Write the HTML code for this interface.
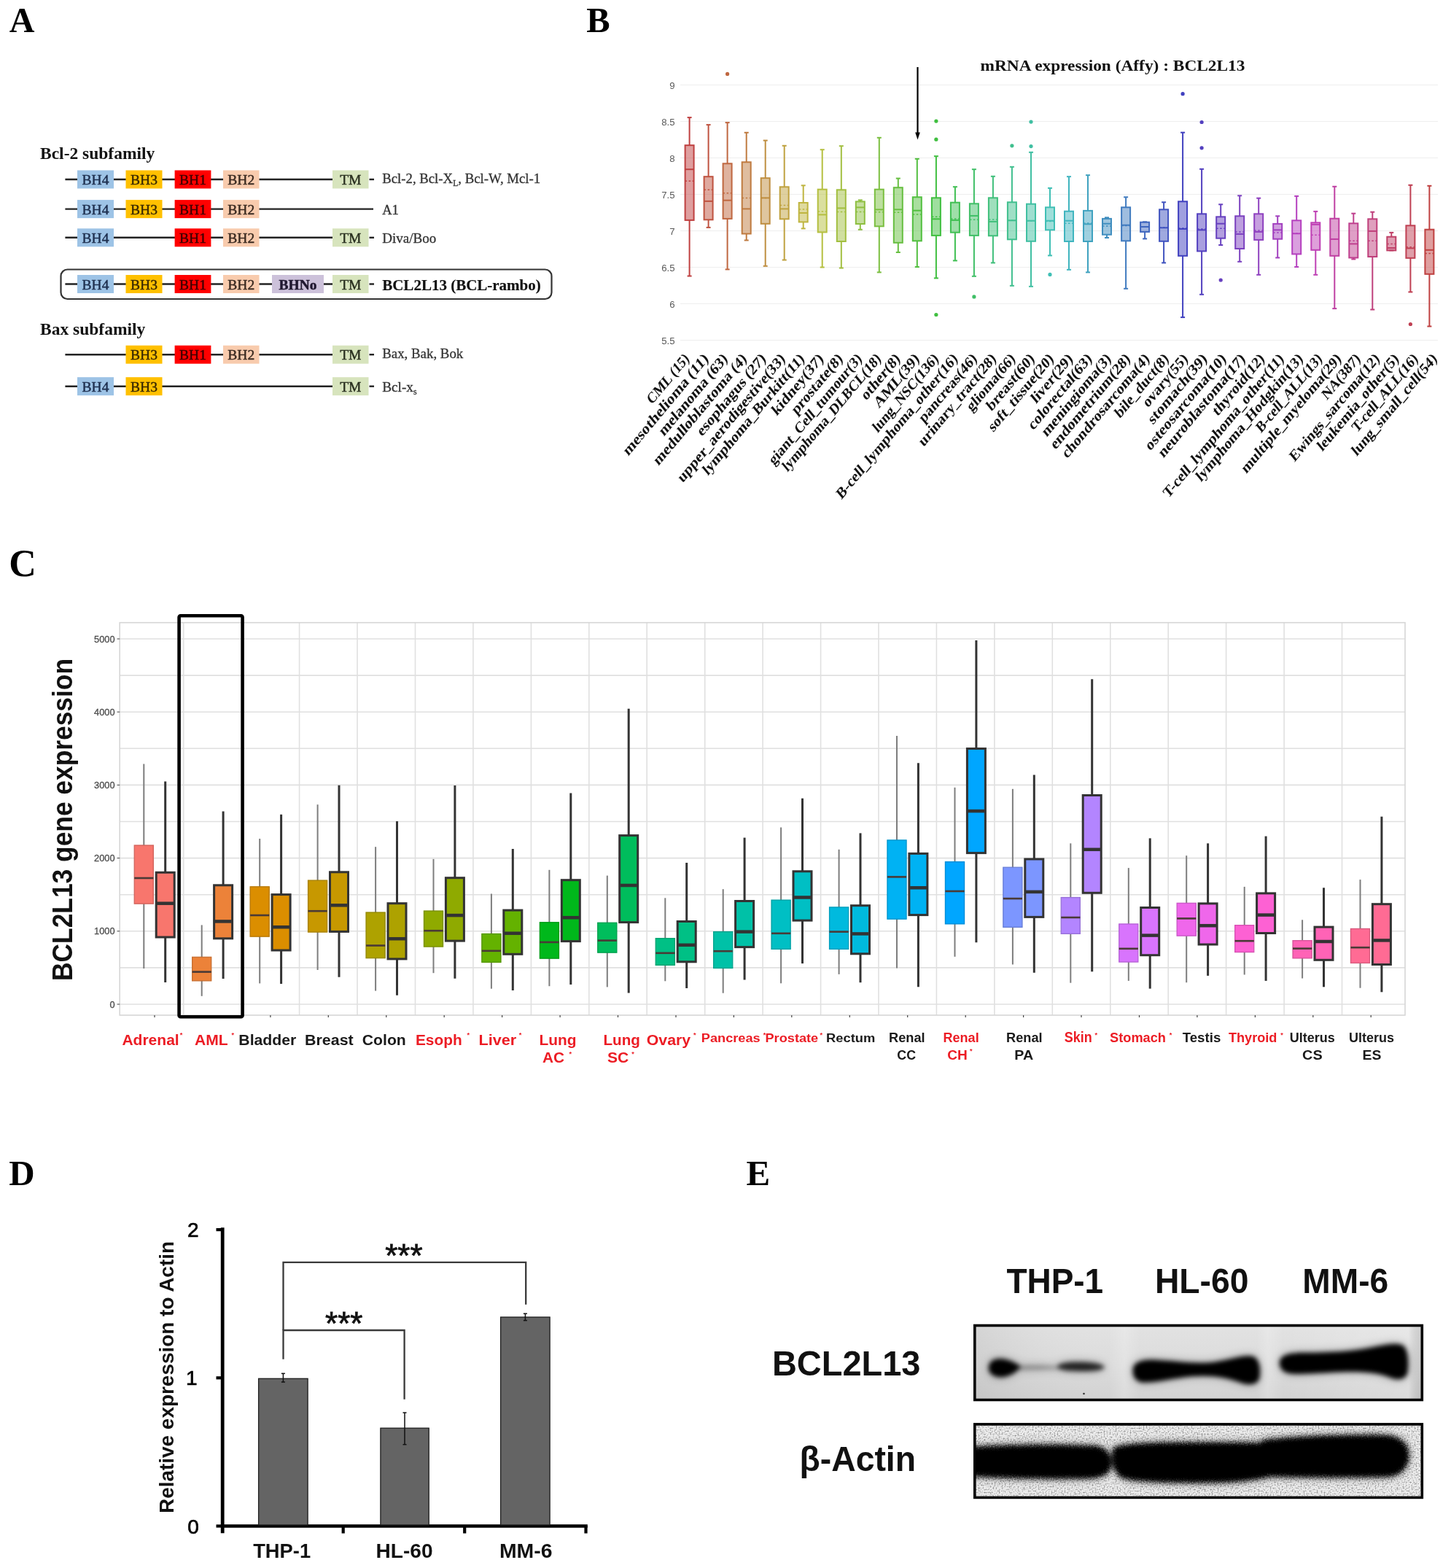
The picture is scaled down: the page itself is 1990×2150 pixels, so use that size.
<!DOCTYPE html>
<html><head><meta charset="utf-8"><title>BCL2L13 figure</title>
<style>html,body{margin:0;padding:0;background:#fff;} svg{display:block;}</style></head>
<body><svg width="1990" height="2150" viewBox="0 0 1990 2150">
<rect x="0" y="0" width="1990" height="2150" fill="#fff"/>
<text x="12.8" y="44.2" font-family="'Liberation Serif','Times New Roman',serif" font-weight="bold" font-size="48" fill="#000">A</text>
<text x="804.3" y="44.2" font-family="'Liberation Serif','Times New Roman',serif" font-weight="bold" font-size="48.5" fill="#000">B</text>
<text x="12.2" y="790.3" font-family="'Liberation Serif','Times New Roman',serif" font-weight="bold" font-size="52" fill="#000">C</text>
<text x="12.2" y="1625.2" font-family="'Liberation Serif','Times New Roman',serif" font-weight="bold" font-size="49" fill="#000">D</text>
<text x="1023.6" y="1625.2" font-family="'Liberation Serif','Times New Roman',serif" font-weight="bold" font-size="49" fill="#000">E</text>
<text x="55" y="218" font-family="'Liberation Serif','Times New Roman',serif" font-weight="bold" font-size="23.5" fill="#111">Bcl-2 subfamily</text>
<line x1="89.4" y1="246" x2="456" y2="246" stroke="#222" stroke-width="2.4"/>
<rect x="106" y="233.5" width="50" height="25" fill="#9DC3E6"/>
<text x="131.0" y="253" text-anchor="middle" font-family="'Liberation Serif','Times New Roman',serif" font-weight="normal" font-size="19.5" fill="#1F3050" stroke="#1F3050" stroke-width="0.45">BH4</text>
<rect x="172.5" y="233.5" width="50.0" height="25" fill="#FFC000"/>
<text x="197.5" y="253" text-anchor="middle" font-family="'Liberation Serif','Times New Roman',serif" font-weight="normal" font-size="19.5" fill="#3A2A00" stroke="#3A2A00" stroke-width="0.45">BH3</text>
<rect x="239.6" y="233.5" width="49.79999999999998" height="25" fill="#FF0000"/>
<text x="264.5" y="253" text-anchor="middle" font-family="'Liberation Serif','Times New Roman',serif" font-weight="normal" font-size="19.5" fill="#400000" stroke="#400000" stroke-width="0.45">BH1</text>
<rect x="306" y="233.5" width="49.5" height="25" fill="#F8CBAD"/>
<text x="330.75" y="253" text-anchor="middle" font-family="'Liberation Serif','Times New Roman',serif" font-weight="normal" font-size="19.5" fill="#3A2A20" stroke="#3A2A20" stroke-width="0.45">BH2</text>
<rect x="456" y="233.5" width="49.5" height="25" fill="#D7E4BD"/>
<text x="480.75" y="253" text-anchor="middle" font-family="'Liberation Serif','Times New Roman',serif" font-weight="normal" font-size="19.5" fill="#2A3020" stroke="#2A3020" stroke-width="0.45">TM</text>
<line x1="506.5" y1="246" x2="513" y2="246" stroke="#222" stroke-width="2.4"/>
<text transform="translate(524.2,251) scale(1.015,1)" font-family="'Liberation Serif','Times New Roman',serif" font-weight="normal" font-size="18.5" fill="#333" stroke="#333" stroke-width="0.3">Bcl-2, Bcl-X<tspan font-size="11.5" dy="4">L</tspan><tspan dy="-4">, Bcl-W, Mcl-1</tspan></text>
<line x1="89.4" y1="286.6" x2="512" y2="286.6" stroke="#222" stroke-width="2.4"/>
<rect x="106" y="274.1" width="50" height="25" fill="#9DC3E6"/>
<text x="131.0" y="293.6" text-anchor="middle" font-family="'Liberation Serif','Times New Roman',serif" font-weight="normal" font-size="19.5" fill="#1F3050" stroke="#1F3050" stroke-width="0.45">BH4</text>
<rect x="172.5" y="274.1" width="50.0" height="25" fill="#FFC000"/>
<text x="197.5" y="293.6" text-anchor="middle" font-family="'Liberation Serif','Times New Roman',serif" font-weight="normal" font-size="19.5" fill="#3A2A00" stroke="#3A2A00" stroke-width="0.45">BH3</text>
<rect x="239.6" y="274.1" width="49.79999999999998" height="25" fill="#FF0000"/>
<text x="264.5" y="293.6" text-anchor="middle" font-family="'Liberation Serif','Times New Roman',serif" font-weight="normal" font-size="19.5" fill="#400000" stroke="#400000" stroke-width="0.45">BH1</text>
<rect x="306" y="274.1" width="49.5" height="25" fill="#F8CBAD"/>
<text x="330.75" y="293.6" text-anchor="middle" font-family="'Liberation Serif','Times New Roman',serif" font-weight="normal" font-size="19.5" fill="#3A2A20" stroke="#3A2A20" stroke-width="0.45">BH2</text>
<text transform="translate(524.2,294.4) scale(1.0,1)" font-family="'Liberation Serif','Times New Roman',serif" font-weight="normal" font-size="18.5" fill="#333" stroke="#333" stroke-width="0.3">A1</text>
<line x1="89.4" y1="325.8" x2="456" y2="325.8" stroke="#222" stroke-width="2.4"/>
<rect x="106" y="313.3" width="50" height="25" fill="#9DC3E6"/>
<text x="131.0" y="332.8" text-anchor="middle" font-family="'Liberation Serif','Times New Roman',serif" font-weight="normal" font-size="19.5" fill="#1F3050" stroke="#1F3050" stroke-width="0.45">BH4</text>
<rect x="239.6" y="313.3" width="49.79999999999998" height="25" fill="#FF0000"/>
<text x="264.5" y="332.8" text-anchor="middle" font-family="'Liberation Serif','Times New Roman',serif" font-weight="normal" font-size="19.5" fill="#400000" stroke="#400000" stroke-width="0.45">BH1</text>
<rect x="306" y="313.3" width="49.5" height="25" fill="#F8CBAD"/>
<text x="330.75" y="332.8" text-anchor="middle" font-family="'Liberation Serif','Times New Roman',serif" font-weight="normal" font-size="19.5" fill="#3A2A20" stroke="#3A2A20" stroke-width="0.45">BH2</text>
<rect x="456" y="313.3" width="49.5" height="25" fill="#D7E4BD"/>
<text x="480.75" y="332.8" text-anchor="middle" font-family="'Liberation Serif','Times New Roman',serif" font-weight="normal" font-size="19.5" fill="#2A3020" stroke="#2A3020" stroke-width="0.45">TM</text>
<line x1="506.5" y1="325.8" x2="513" y2="325.8" stroke="#222" stroke-width="2.4"/>
<text transform="translate(524.2,333.4) scale(1.03,1)" font-family="'Liberation Serif','Times New Roman',serif" font-weight="normal" font-size="18.5" fill="#333" stroke="#333" stroke-width="0.3">Diva/Boo</text>
<rect x="83.5" y="369.5" width="673" height="40.5" rx="9" ry="9" fill="none" stroke="#333" stroke-width="2.2"/>
<line x1="89.4" y1="389.5" x2="456" y2="389.5" stroke="#222" stroke-width="2.4"/>
<rect x="106" y="377.0" width="50" height="25" fill="#9DC3E6"/>
<text x="131.0" y="396.5" text-anchor="middle" font-family="'Liberation Serif','Times New Roman',serif" font-weight="normal" font-size="19.5" fill="#1F3050" stroke="#1F3050" stroke-width="0.45">BH4</text>
<rect x="172.5" y="377.0" width="50.0" height="25" fill="#FFC000"/>
<text x="197.5" y="396.5" text-anchor="middle" font-family="'Liberation Serif','Times New Roman',serif" font-weight="normal" font-size="19.5" fill="#3A2A00" stroke="#3A2A00" stroke-width="0.45">BH3</text>
<rect x="239.6" y="377.0" width="49.79999999999998" height="25" fill="#FF0000"/>
<text x="264.5" y="396.5" text-anchor="middle" font-family="'Liberation Serif','Times New Roman',serif" font-weight="normal" font-size="19.5" fill="#400000" stroke="#400000" stroke-width="0.45">BH1</text>
<rect x="306" y="377.0" width="49.5" height="25" fill="#F8CBAD"/>
<text x="330.75" y="396.5" text-anchor="middle" font-family="'Liberation Serif','Times New Roman',serif" font-weight="normal" font-size="19.5" fill="#3A2A20" stroke="#3A2A20" stroke-width="0.45">BH2</text>
<rect x="373" y="377.0" width="71" height="25" fill="#CCC1DA"/>
<text x="408.5" y="396.5" text-anchor="middle" font-family="'Liberation Serif','Times New Roman',serif" font-weight="bold" font-size="19.5" fill="#201830" stroke="#201830" stroke-width="0.45">BHNo</text>
<rect x="456" y="377.0" width="49.5" height="25" fill="#D7E4BD"/>
<text x="480.75" y="396.5" text-anchor="middle" font-family="'Liberation Serif','Times New Roman',serif" font-weight="normal" font-size="19.5" fill="#2A3020" stroke="#2A3020" stroke-width="0.45">TM</text>
<line x1="506.5" y1="389.5" x2="513" y2="389.5" stroke="#222" stroke-width="2.4"/>
<text transform="translate(524.2,397.5) scale(1.0,1)" font-family="'Liberation Serif','Times New Roman',serif" font-weight="bold" font-size="21" fill="#111" stroke="#111" stroke-width="0.2">BCL2L13 (BCL-rambo)</text>
<text x="55" y="458.5" font-family="'Liberation Serif','Times New Roman',serif" font-weight="bold" font-size="23.5" fill="#111">Bax subfamily</text>
<line x1="89.4" y1="486.2" x2="456" y2="486.2" stroke="#222" stroke-width="2.4"/>
<rect x="172.5" y="473.7" width="50.0" height="25" fill="#FFC000"/>
<text x="197.5" y="493.2" text-anchor="middle" font-family="'Liberation Serif','Times New Roman',serif" font-weight="normal" font-size="19.5" fill="#3A2A00" stroke="#3A2A00" stroke-width="0.45">BH3</text>
<rect x="239.6" y="473.7" width="49.79999999999998" height="25" fill="#FF0000"/>
<text x="264.5" y="493.2" text-anchor="middle" font-family="'Liberation Serif','Times New Roman',serif" font-weight="normal" font-size="19.5" fill="#400000" stroke="#400000" stroke-width="0.45">BH1</text>
<rect x="306" y="473.7" width="49.5" height="25" fill="#F8CBAD"/>
<text x="330.75" y="493.2" text-anchor="middle" font-family="'Liberation Serif','Times New Roman',serif" font-weight="normal" font-size="19.5" fill="#3A2A20" stroke="#3A2A20" stroke-width="0.45">BH2</text>
<rect x="456" y="473.7" width="49.5" height="25" fill="#D7E4BD"/>
<text x="480.75" y="493.2" text-anchor="middle" font-family="'Liberation Serif','Times New Roman',serif" font-weight="normal" font-size="19.5" fill="#2A3020" stroke="#2A3020" stroke-width="0.45">TM</text>
<line x1="506.5" y1="486.2" x2="513" y2="486.2" stroke="#222" stroke-width="2.4"/>
<text transform="translate(524.2,491.4) scale(1.02,1)" font-family="'Liberation Serif','Times New Roman',serif" font-weight="normal" font-size="18.5" fill="#333" stroke="#333" stroke-width="0.3">Bax, Bak, Bok</text>
<line x1="89.4" y1="529.7" x2="456" y2="529.7" stroke="#222" stroke-width="2.4"/>
<rect x="106" y="517.2" width="50" height="25" fill="#9DC3E6"/>
<text x="131.0" y="536.7" text-anchor="middle" font-family="'Liberation Serif','Times New Roman',serif" font-weight="normal" font-size="19.5" fill="#1F3050" stroke="#1F3050" stroke-width="0.45">BH4</text>
<rect x="172.5" y="517.2" width="50.0" height="25" fill="#FFC000"/>
<text x="197.5" y="536.7" text-anchor="middle" font-family="'Liberation Serif','Times New Roman',serif" font-weight="normal" font-size="19.5" fill="#3A2A00" stroke="#3A2A00" stroke-width="0.45">BH3</text>
<rect x="456" y="517.2" width="49.5" height="25" fill="#D7E4BD"/>
<text x="480.75" y="536.7" text-anchor="middle" font-family="'Liberation Serif','Times New Roman',serif" font-weight="normal" font-size="19.5" fill="#2A3020" stroke="#2A3020" stroke-width="0.45">TM</text>
<line x1="506.5" y1="529.7" x2="513" y2="529.7" stroke="#222" stroke-width="2.4"/>
<text transform="translate(524.2,536.9) scale(1.04,1)" font-family="'Liberation Serif','Times New Roman',serif" font-weight="normal" font-size="18.5" fill="#333" stroke="#333" stroke-width="0.3">Bcl-x<tspan font-size="11.5" dy="4">s</tspan></text>
<line x1="933" y1="116.5" x2="1972" y2="116.5" stroke="#eeeeee" stroke-width="1"/>
<text x="925.5" y="121.5" text-anchor="end" font-family="'Liberation Sans',Arial,sans-serif" font-size="13.2" fill="#5a5a5a">9</text>
<line x1="933" y1="166.5" x2="1972" y2="166.5" stroke="#eeeeee" stroke-width="1"/>
<text x="925.5" y="171.5" text-anchor="end" font-family="'Liberation Sans',Arial,sans-serif" font-size="13.2" fill="#5a5a5a">8.5</text>
<line x1="933" y1="216.5" x2="1972" y2="216.5" stroke="#eeeeee" stroke-width="1"/>
<text x="925.5" y="221.5" text-anchor="end" font-family="'Liberation Sans',Arial,sans-serif" font-size="13.2" fill="#5a5a5a">8</text>
<line x1="933" y1="266.5" x2="1972" y2="266.5" stroke="#eeeeee" stroke-width="1"/>
<text x="925.5" y="271.5" text-anchor="end" font-family="'Liberation Sans',Arial,sans-serif" font-size="13.2" fill="#5a5a5a">7.5</text>
<line x1="933" y1="316.5" x2="1972" y2="316.5" stroke="#eeeeee" stroke-width="1"/>
<text x="925.5" y="321.5" text-anchor="end" font-family="'Liberation Sans',Arial,sans-serif" font-size="13.2" fill="#5a5a5a">7</text>
<line x1="933" y1="366.5" x2="1972" y2="366.5" stroke="#eeeeee" stroke-width="1"/>
<text x="925.5" y="371.5" text-anchor="end" font-family="'Liberation Sans',Arial,sans-serif" font-size="13.2" fill="#5a5a5a">6.5</text>
<line x1="933" y1="416.5" x2="1972" y2="416.5" stroke="#eeeeee" stroke-width="1"/>
<text x="925.5" y="421.5" text-anchor="end" font-family="'Liberation Sans',Arial,sans-serif" font-size="13.2" fill="#5a5a5a">6</text>
<line x1="933" y1="466.5" x2="1972" y2="466.5" stroke="#eeeeee" stroke-width="1"/>
<text x="925.5" y="471.5" text-anchor="end" font-family="'Liberation Sans',Arial,sans-serif" font-size="13.2" fill="#5a5a5a">5.5</text>
<g stroke="#bf4040" stroke-width="2" fill="none">
<line x1="945.6" y1="161.1" x2="945.6" y2="199.2"/>
<line x1="945.6" y1="301.9" x2="945.6" y2="378.5"/>
<line x1="942.6" y1="161.1" x2="948.6" y2="161.1"/>
<line x1="942.6" y1="378.5" x2="948.6" y2="378.5"/>
<rect x="939.6" y="199.2" width="12" height="102.7" fill="#bf4040" fill-opacity="0.5"/>
<line x1="939.6" y1="232.2" x2="951.6" y2="232.2"/>
<line x1="939.6" y1="248.3" x2="951.6" y2="248.3" stroke-dasharray="2.5,2.5" stroke-width="1.5"/>
</g>
<g stroke="#bf5340" stroke-width="2" fill="none">
<line x1="971.6" y1="171.1" x2="971.6" y2="242.2"/>
<line x1="971.6" y1="301.3" x2="971.6" y2="311.9"/>
<line x1="968.6" y1="171.1" x2="974.6" y2="171.1"/>
<line x1="968.6" y1="311.9" x2="974.6" y2="311.9"/>
<rect x="965.6" y="242.2" width="12" height="59.1" fill="#bf5340" fill-opacity="0.5"/>
<line x1="965.6" y1="275.9" x2="977.6" y2="275.9"/>
<line x1="965.6" y1="260.3" x2="977.6" y2="260.3" stroke-dasharray="2.5,2.5" stroke-width="1.5"/>
</g>
<g stroke="#bf6740" stroke-width="2" fill="none">
<line x1="997.6" y1="168.1" x2="997.6" y2="224.3"/>
<line x1="997.6" y1="299.9" x2="997.6" y2="369.4"/>
<line x1="994.6" y1="168.1" x2="1000.6" y2="168.1"/>
<line x1="994.6" y1="369.4" x2="1000.6" y2="369.4"/>
<rect x="991.6" y="224.3" width="12" height="75.6" fill="#bf6740" fill-opacity="0.5"/>
<line x1="991.6" y1="274.7" x2="1003.6" y2="274.7"/>
<line x1="991.6" y1="264.7" x2="1003.6" y2="264.7" stroke-dasharray="2.5,2.5" stroke-width="1.5"/>
</g>
<circle cx="997.6" cy="101.4" r="2.6" fill="#bf6740"/>
<g stroke="#bf7b40" stroke-width="2" fill="none">
<line x1="1023.7" y1="181.8" x2="1023.7" y2="222.3"/>
<line x1="1023.7" y1="320.5" x2="1023.7" y2="329.5"/>
<line x1="1020.7" y1="181.8" x2="1026.7" y2="181.8"/>
<line x1="1020.7" y1="329.5" x2="1026.7" y2="329.5"/>
<rect x="1017.7" y="222.3" width="12" height="98.2" fill="#bf7b40" fill-opacity="0.5"/>
<line x1="1017.7" y1="286.4" x2="1029.7" y2="286.4"/>
<line x1="1017.7" y1="271.4" x2="1029.7" y2="271.4" stroke-dasharray="2.5,2.5" stroke-width="1.5"/>
</g>
<g stroke="#bf8e40" stroke-width="2" fill="none">
<line x1="1049.7" y1="192.6" x2="1049.7" y2="244.2"/>
<line x1="1049.7" y1="306.8" x2="1049.7" y2="364.8"/>
<line x1="1046.7" y1="192.6" x2="1052.7" y2="192.6"/>
<line x1="1046.7" y1="364.8" x2="1052.7" y2="364.8"/>
<rect x="1043.7" y="244.2" width="12" height="62.6" fill="#bf8e40" fill-opacity="0.5"/>
<line x1="1043.7" y1="271.4" x2="1055.7" y2="271.4"/>
<line x1="1043.7" y1="271.4" x2="1055.7" y2="271.4" stroke-dasharray="2.5,2.5" stroke-width="1.5"/>
</g>
<g stroke="#bfa240" stroke-width="2" fill="none">
<line x1="1075.7" y1="199.8" x2="1075.7" y2="256.3"/>
<line x1="1075.7" y1="300.3" x2="1075.7" y2="356.5"/>
<line x1="1072.7" y1="199.8" x2="1078.7" y2="199.8"/>
<line x1="1072.7" y1="356.5" x2="1078.7" y2="356.5"/>
<rect x="1069.7" y="256.3" width="12" height="44.0" fill="#bfa240" fill-opacity="0.5"/>
<line x1="1069.7" y1="286.4" x2="1081.7" y2="286.4"/>
<line x1="1069.7" y1="281.4" x2="1081.7" y2="281.4" stroke-dasharray="2.5,2.5" stroke-width="1.5"/>
</g>
<g stroke="#bfb540" stroke-width="2" fill="none">
<line x1="1101.7" y1="254.3" x2="1101.7" y2="278.0"/>
<line x1="1101.7" y1="304.4" x2="1101.7" y2="313.4"/>
<line x1="1098.7" y1="254.3" x2="1104.7" y2="254.3"/>
<line x1="1098.7" y1="313.4" x2="1104.7" y2="313.4"/>
<rect x="1095.7" y="278.0" width="12" height="26.4" fill="#bfb540" fill-opacity="0.5"/>
<line x1="1095.7" y1="292.0" x2="1107.7" y2="292.0"/>
<line x1="1095.7" y1="287.0" x2="1107.7" y2="287.0" stroke-dasharray="2.5,2.5" stroke-width="1.5"/>
</g>
<g stroke="#b5bf40" stroke-width="2" fill="none">
<line x1="1127.7" y1="205.2" x2="1127.7" y2="259.7"/>
<line x1="1127.7" y1="318.4" x2="1127.7" y2="366.5"/>
<line x1="1124.7" y1="205.2" x2="1130.7" y2="205.2"/>
<line x1="1124.7" y1="366.5" x2="1130.7" y2="366.5"/>
<rect x="1121.7" y="259.7" width="12" height="58.7" fill="#b5bf40" fill-opacity="0.5"/>
<line x1="1121.7" y1="294.4" x2="1133.7" y2="294.4"/>
<line x1="1121.7" y1="290.0" x2="1133.7" y2="290.0" stroke-dasharray="2.5,2.5" stroke-width="1.5"/>
</g>
<g stroke="#a2bf40" stroke-width="2" fill="none">
<line x1="1153.8" y1="200.2" x2="1153.8" y2="260.3"/>
<line x1="1153.8" y1="331.0" x2="1153.8" y2="367.5"/>
<line x1="1150.8" y1="200.2" x2="1156.8" y2="200.2"/>
<line x1="1150.8" y1="367.5" x2="1156.8" y2="367.5"/>
<rect x="1147.8" y="260.3" width="12" height="70.7" fill="#a2bf40" fill-opacity="0.5"/>
<line x1="1147.8" y1="285.4" x2="1159.8" y2="285.4"/>
<line x1="1147.8" y1="290.4" x2="1159.8" y2="290.4" stroke-dasharray="2.5,2.5" stroke-width="1.5"/>
</g>
<g stroke="#8ebf40" stroke-width="2" fill="none">
<line x1="1179.8" y1="274.4" x2="1179.8" y2="276.4"/>
<line x1="1179.8" y1="307.0" x2="1179.8" y2="314.8"/>
<line x1="1176.8" y1="274.4" x2="1182.8" y2="274.4"/>
<line x1="1176.8" y1="314.8" x2="1182.8" y2="314.8"/>
<rect x="1173.8" y="276.4" width="12" height="30.6" fill="#8ebf40" fill-opacity="0.5"/>
<line x1="1173.8" y1="284.4" x2="1185.8" y2="284.4"/>
<line x1="1173.8" y1="290.4" x2="1185.8" y2="290.4" stroke-dasharray="2.5,2.5" stroke-width="1.5"/>
</g>
<g stroke="#7bbf40" stroke-width="2" fill="none">
<line x1="1205.8" y1="188.8" x2="1205.8" y2="259.7"/>
<line x1="1205.8" y1="310.3" x2="1205.8" y2="373.4"/>
<line x1="1202.8" y1="188.8" x2="1208.8" y2="188.8"/>
<line x1="1202.8" y1="373.4" x2="1208.8" y2="373.4"/>
<rect x="1199.8" y="259.7" width="12" height="50.6" fill="#7bbf40" fill-opacity="0.5"/>
<line x1="1199.8" y1="287.4" x2="1211.8" y2="287.4"/>
<line x1="1199.8" y1="290.8" x2="1211.8" y2="290.8" stroke-dasharray="2.5,2.5" stroke-width="1.5"/>
</g>
<g stroke="#67bf40" stroke-width="2" fill="none">
<line x1="1231.8" y1="244.6" x2="1231.8" y2="257.2"/>
<line x1="1231.8" y1="332.8" x2="1231.8" y2="346.0"/>
<line x1="1228.8" y1="244.6" x2="1234.8" y2="244.6"/>
<line x1="1228.8" y1="346.0" x2="1234.8" y2="346.0"/>
<rect x="1225.8" y="257.2" width="12" height="75.6" fill="#67bf40" fill-opacity="0.5"/>
<line x1="1225.8" y1="287.3" x2="1237.8" y2="287.3"/>
<line x1="1225.8" y1="291.3" x2="1237.8" y2="291.3" stroke-dasharray="2.5,2.5" stroke-width="1.5"/>
</g>
<g stroke="#53bf40" stroke-width="2" fill="none">
<line x1="1257.8" y1="217.8" x2="1257.8" y2="270.3"/>
<line x1="1257.8" y1="330.3" x2="1257.8" y2="366.0"/>
<line x1="1254.8" y1="217.8" x2="1260.8" y2="217.8"/>
<line x1="1254.8" y1="366.0" x2="1260.8" y2="366.0"/>
<rect x="1251.8" y="270.3" width="12" height="60.0" fill="#53bf40" fill-opacity="0.5"/>
<line x1="1251.8" y1="288.7" x2="1263.8" y2="288.7"/>
<line x1="1251.8" y1="293.9" x2="1263.8" y2="293.9" stroke-dasharray="2.5,2.5" stroke-width="1.5"/>
</g>
<g stroke="#40bf40" stroke-width="2" fill="none">
<line x1="1283.9" y1="214.2" x2="1283.9" y2="271.3"/>
<line x1="1283.9" y1="322.9" x2="1283.9" y2="381.4"/>
<line x1="1280.9" y1="214.2" x2="1286.9" y2="214.2"/>
<line x1="1280.9" y1="381.4" x2="1286.9" y2="381.4"/>
<rect x="1277.9" y="271.3" width="12" height="51.6" fill="#40bf40" fill-opacity="0.5"/>
<line x1="1277.9" y1="300.3" x2="1289.9" y2="300.3"/>
<line x1="1277.9" y1="297.3" x2="1289.9" y2="297.3" stroke-dasharray="2.5,2.5" stroke-width="1.5"/>
</g>
<circle cx="1283.9" cy="166.1" r="2.6" fill="#40bf40"/>
<circle cx="1283.9" cy="191.2" r="2.6" fill="#40bf40"/>
<circle cx="1283.9" cy="431.5" r="2.6" fill="#40bf40"/>
<g stroke="#40bf53" stroke-width="2" fill="none">
<line x1="1309.9" y1="256.2" x2="1309.9" y2="277.7"/>
<line x1="1309.9" y1="318.7" x2="1309.9" y2="357.4"/>
<line x1="1306.9" y1="256.2" x2="1312.9" y2="256.2"/>
<line x1="1306.9" y1="357.4" x2="1312.9" y2="357.4"/>
<rect x="1303.9" y="277.7" width="12" height="41.0" fill="#40bf53" fill-opacity="0.5"/>
<line x1="1303.9" y1="301.9" x2="1315.9" y2="301.9"/>
<line x1="1303.9" y1="300.0" x2="1315.9" y2="300.0" stroke-dasharray="2.5,2.5" stroke-width="1.5"/>
</g>
<g stroke="#40bf67" stroke-width="2" fill="none">
<line x1="1335.9" y1="232.2" x2="1335.9" y2="279.3"/>
<line x1="1335.9" y1="322.9" x2="1335.9" y2="378.8"/>
<line x1="1332.9" y1="232.2" x2="1338.9" y2="232.2"/>
<line x1="1332.9" y1="378.8" x2="1338.9" y2="378.8"/>
<rect x="1329.9" y="279.3" width="12" height="43.6" fill="#40bf67" fill-opacity="0.5"/>
<line x1="1329.9" y1="295.9" x2="1341.9" y2="295.9"/>
<line x1="1329.9" y1="301.3" x2="1341.9" y2="301.3" stroke-dasharray="2.5,2.5" stroke-width="1.5"/>
</g>
<circle cx="1335.9" cy="406.9" r="2.6" fill="#40bf67"/>
<g stroke="#40bf7b" stroke-width="2" fill="none">
<line x1="1361.9" y1="241.8" x2="1361.9" y2="271.3"/>
<line x1="1361.9" y1="323.3" x2="1361.9" y2="360.4"/>
<line x1="1358.9" y1="241.8" x2="1364.9" y2="241.8"/>
<line x1="1358.9" y1="360.4" x2="1364.9" y2="360.4"/>
<rect x="1355.9" y="271.3" width="12" height="52.0" fill="#40bf7b" fill-opacity="0.5"/>
<line x1="1355.9" y1="303.9" x2="1367.9" y2="303.9"/>
<line x1="1355.9" y1="301.0" x2="1367.9" y2="301.0" stroke-dasharray="2.5,2.5" stroke-width="1.5"/>
</g>
<g stroke="#40bf8e" stroke-width="2" fill="none">
<line x1="1387.9" y1="228.8" x2="1387.9" y2="277.3"/>
<line x1="1387.9" y1="328.3" x2="1387.9" y2="391.8"/>
<line x1="1384.9" y1="228.8" x2="1390.9" y2="228.8"/>
<line x1="1384.9" y1="391.8" x2="1390.9" y2="391.8"/>
<rect x="1381.9" y="277.3" width="12" height="51.0" fill="#40bf8e" fill-opacity="0.5"/>
<line x1="1381.9" y1="302.3" x2="1393.9" y2="302.3"/>
<line x1="1381.9" y1="302.3" x2="1393.9" y2="302.3" stroke-dasharray="2.5,2.5" stroke-width="1.5"/>
</g>
<circle cx="1387.9" cy="199.8" r="2.6" fill="#40bf8e"/>
<g stroke="#40bfa2" stroke-width="2" fill="none">
<line x1="1414.0" y1="208.8" x2="1414.0" y2="279.7"/>
<line x1="1414.0" y1="330.8" x2="1414.0" y2="392.8"/>
<line x1="1411.0" y1="208.8" x2="1417.0" y2="208.8"/>
<line x1="1411.0" y1="392.8" x2="1417.0" y2="392.8"/>
<rect x="1408.0" y="279.7" width="12" height="51.1" fill="#40bfa2" fill-opacity="0.5"/>
<line x1="1408.0" y1="302.7" x2="1420.0" y2="302.7"/>
<line x1="1408.0" y1="302.7" x2="1420.0" y2="302.7" stroke-dasharray="2.5,2.5" stroke-width="1.5"/>
</g>
<circle cx="1414.0" cy="167.1" r="2.6" fill="#40bfa2"/>
<circle cx="1414.0" cy="200.6" r="2.6" fill="#40bfa2"/>
<g stroke="#40bfb5" stroke-width="2" fill="none">
<line x1="1440.0" y1="257.9" x2="1440.0" y2="284.3"/>
<line x1="1440.0" y1="315.3" x2="1440.0" y2="350.4"/>
<line x1="1437.0" y1="257.9" x2="1443.0" y2="257.9"/>
<line x1="1437.0" y1="350.4" x2="1443.0" y2="350.4"/>
<rect x="1434.0" y="284.3" width="12" height="31.0" fill="#40bfb5" fill-opacity="0.5"/>
<line x1="1434.0" y1="302.7" x2="1446.0" y2="302.7"/>
<line x1="1434.0" y1="303.5" x2="1446.0" y2="303.5" stroke-dasharray="2.5,2.5" stroke-width="1.5"/>
</g>
<circle cx="1440.0" cy="376.4" r="2.6" fill="#40bfb5"/>
<g stroke="#40b5bf" stroke-width="2" fill="none">
<line x1="1466.0" y1="242.2" x2="1466.0" y2="289.7"/>
<line x1="1466.0" y1="331.0" x2="1466.0" y2="369.8"/>
<line x1="1463.0" y1="242.2" x2="1469.0" y2="242.2"/>
<line x1="1463.0" y1="369.8" x2="1469.0" y2="369.8"/>
<rect x="1460.0" y="289.7" width="12" height="41.3" fill="#40b5bf" fill-opacity="0.5"/>
<line x1="1460.0" y1="302.7" x2="1472.0" y2="302.7"/>
<line x1="1460.0" y1="306.3" x2="1472.0" y2="306.3" stroke-dasharray="2.5,2.5" stroke-width="1.5"/>
</g>
<g stroke="#40a2bf" stroke-width="2" fill="none">
<line x1="1492.0" y1="240.2" x2="1492.0" y2="288.9"/>
<line x1="1492.0" y1="331.0" x2="1492.0" y2="373.4"/>
<line x1="1489.0" y1="240.2" x2="1495.0" y2="240.2"/>
<line x1="1489.0" y1="373.4" x2="1495.0" y2="373.4"/>
<rect x="1486.0" y="288.9" width="12" height="42.1" fill="#40a2bf" fill-opacity="0.5"/>
<line x1="1486.0" y1="307.3" x2="1498.0" y2="307.3"/>
<line x1="1486.0" y1="306.0" x2="1498.0" y2="306.0" stroke-dasharray="2.5,2.5" stroke-width="1.5"/>
</g>
<g stroke="#408ebf" stroke-width="2" fill="none">
<line x1="1518.0" y1="298.3" x2="1518.0" y2="299.9"/>
<line x1="1518.0" y1="321.7" x2="1518.0" y2="326.0"/>
<line x1="1515.0" y1="298.3" x2="1521.0" y2="298.3"/>
<line x1="1515.0" y1="326.0" x2="1521.0" y2="326.0"/>
<rect x="1512.0" y="299.9" width="12" height="21.8" fill="#408ebf" fill-opacity="0.5"/>
<line x1="1512.0" y1="306.7" x2="1524.0" y2="306.7"/>
<line x1="1512.0" y1="310.0" x2="1524.0" y2="310.0" stroke-dasharray="2.5,2.5" stroke-width="1.5"/>
</g>
<g stroke="#407bbf" stroke-width="2" fill="none">
<line x1="1544.1" y1="270.3" x2="1544.1" y2="284.3"/>
<line x1="1544.1" y1="330.3" x2="1544.1" y2="395.8"/>
<line x1="1541.1" y1="270.3" x2="1547.1" y2="270.3"/>
<line x1="1541.1" y1="395.8" x2="1547.1" y2="395.8"/>
<rect x="1538.1" y="284.3" width="12" height="46.0" fill="#407bbf" fill-opacity="0.5"/>
<line x1="1538.1" y1="308.7" x2="1550.1" y2="308.7"/>
<line x1="1538.1" y1="309.5" x2="1550.1" y2="309.5" stroke-dasharray="2.5,2.5" stroke-width="1.5"/>
</g>
<g stroke="#4067bf" stroke-width="2" fill="none">
<line x1="1570.1" y1="304.3" x2="1570.1" y2="304.7"/>
<line x1="1570.1" y1="317.9" x2="1570.1" y2="327.4"/>
<line x1="1567.1" y1="304.3" x2="1573.1" y2="304.3"/>
<line x1="1567.1" y1="327.4" x2="1573.1" y2="327.4"/>
<rect x="1564.1" y="304.7" width="12" height="13.2" fill="#4067bf" fill-opacity="0.5"/>
<line x1="1564.1" y1="311.0" x2="1576.1" y2="311.0"/>
<line x1="1564.1" y1="311.0" x2="1576.1" y2="311.0" stroke-dasharray="2.5,2.5" stroke-width="1.5"/>
</g>
<g stroke="#4053bf" stroke-width="2" fill="none">
<line x1="1596.1" y1="277.3" x2="1596.1" y2="287.3"/>
<line x1="1596.1" y1="330.8" x2="1596.1" y2="360.4"/>
<line x1="1593.1" y1="277.3" x2="1599.1" y2="277.3"/>
<line x1="1593.1" y1="360.4" x2="1599.1" y2="360.4"/>
<rect x="1590.1" y="287.3" width="12" height="43.5" fill="#4053bf" fill-opacity="0.5"/>
<line x1="1590.1" y1="312.3" x2="1602.1" y2="312.3"/>
<line x1="1590.1" y1="312.0" x2="1602.1" y2="312.0" stroke-dasharray="2.5,2.5" stroke-width="1.5"/>
</g>
<g stroke="#4040bf" stroke-width="2" fill="none">
<line x1="1622.1" y1="181.7" x2="1622.1" y2="276.3"/>
<line x1="1622.1" y1="350.8" x2="1622.1" y2="435.1"/>
<line x1="1619.1" y1="181.7" x2="1625.1" y2="181.7"/>
<line x1="1619.1" y1="435.1" x2="1625.1" y2="435.1"/>
<rect x="1616.1" y="276.3" width="12" height="74.5" fill="#4040bf" fill-opacity="0.5"/>
<line x1="1616.1" y1="313.9" x2="1628.1" y2="313.9"/>
<line x1="1616.1" y1="313.0" x2="1628.1" y2="313.0" stroke-dasharray="2.5,2.5" stroke-width="1.5"/>
</g>
<circle cx="1622.1" cy="128.7" r="2.6" fill="#4040bf"/>
<g stroke="#5340bf" stroke-width="2" fill="none">
<line x1="1648.1" y1="231.8" x2="1648.1" y2="293.3"/>
<line x1="1648.1" y1="344.4" x2="1648.1" y2="403.8"/>
<line x1="1645.1" y1="231.8" x2="1651.1" y2="231.8"/>
<line x1="1645.1" y1="403.8" x2="1651.1" y2="403.8"/>
<rect x="1642.1" y="293.3" width="12" height="51.1" fill="#5340bf" fill-opacity="0.5"/>
<line x1="1642.1" y1="315.3" x2="1654.1" y2="315.3"/>
<line x1="1642.1" y1="314.0" x2="1654.1" y2="314.0" stroke-dasharray="2.5,2.5" stroke-width="1.5"/>
</g>
<circle cx="1648.1" cy="167.5" r="2.6" fill="#5340bf"/>
<circle cx="1648.1" cy="202.8" r="2.6" fill="#5340bf"/>
<g stroke="#6740bf" stroke-width="2" fill="none">
<line x1="1674.2" y1="280.3" x2="1674.2" y2="297.3"/>
<line x1="1674.2" y1="326.7" x2="1674.2" y2="336.0"/>
<line x1="1671.2" y1="280.3" x2="1677.2" y2="280.3"/>
<line x1="1671.2" y1="336.0" x2="1677.2" y2="336.0"/>
<rect x="1668.2" y="297.3" width="12" height="29.4" fill="#6740bf" fill-opacity="0.5"/>
<line x1="1668.2" y1="306.7" x2="1680.2" y2="306.7"/>
<line x1="1668.2" y1="313.3" x2="1680.2" y2="313.3" stroke-dasharray="2.5,2.5" stroke-width="1.5"/>
</g>
<circle cx="1674.2" cy="384.0" r="2.6" fill="#6740bf"/>
<g stroke="#7b40bf" stroke-width="2" fill="none">
<line x1="1700.2" y1="268.3" x2="1700.2" y2="296.3"/>
<line x1="1700.2" y1="341.0" x2="1700.2" y2="358.8"/>
<line x1="1697.2" y1="268.3" x2="1703.2" y2="268.3"/>
<line x1="1697.2" y1="358.8" x2="1703.2" y2="358.8"/>
<rect x="1694.2" y="296.3" width="12" height="44.7" fill="#7b40bf" fill-opacity="0.5"/>
<line x1="1694.2" y1="320.9" x2="1706.2" y2="320.9"/>
<line x1="1694.2" y1="317.9" x2="1706.2" y2="317.9" stroke-dasharray="2.5,2.5" stroke-width="1.5"/>
</g>
<g stroke="#8e40bf" stroke-width="2" fill="none">
<line x1="1726.2" y1="271.7" x2="1726.2" y2="293.3"/>
<line x1="1726.2" y1="328.9" x2="1726.2" y2="376.8"/>
<line x1="1723.2" y1="271.7" x2="1729.2" y2="271.7"/>
<line x1="1723.2" y1="376.8" x2="1729.2" y2="376.8"/>
<rect x="1720.2" y="293.3" width="12" height="35.6" fill="#8e40bf" fill-opacity="0.5"/>
<line x1="1720.2" y1="317.9" x2="1732.2" y2="317.9"/>
<line x1="1720.2" y1="316.0" x2="1732.2" y2="316.0" stroke-dasharray="2.5,2.5" stroke-width="1.5"/>
</g>
<g stroke="#a240bf" stroke-width="2" fill="none">
<line x1="1752.2" y1="296.3" x2="1752.2" y2="306.9"/>
<line x1="1752.2" y1="327.7" x2="1752.2" y2="353.4"/>
<line x1="1749.2" y1="296.3" x2="1755.2" y2="296.3"/>
<line x1="1749.2" y1="353.4" x2="1755.2" y2="353.4"/>
<rect x="1746.2" y="306.9" width="12" height="20.8" fill="#a240bf" fill-opacity="0.5"/>
<line x1="1746.2" y1="315.3" x2="1758.2" y2="315.3"/>
<line x1="1746.2" y1="319.0" x2="1758.2" y2="319.0" stroke-dasharray="2.5,2.5" stroke-width="1.5"/>
</g>
<g stroke="#b540bf" stroke-width="2" fill="none">
<line x1="1778.2" y1="268.9" x2="1778.2" y2="302.3"/>
<line x1="1778.2" y1="348.4" x2="1778.2" y2="366.0"/>
<line x1="1775.2" y1="268.9" x2="1781.2" y2="268.9"/>
<line x1="1775.2" y1="366.0" x2="1781.2" y2="366.0"/>
<rect x="1772.2" y="302.3" width="12" height="46.1" fill="#b540bf" fill-opacity="0.5"/>
<line x1="1772.2" y1="320.3" x2="1784.2" y2="320.3"/>
<line x1="1772.2" y1="320.0" x2="1784.2" y2="320.0" stroke-dasharray="2.5,2.5" stroke-width="1.5"/>
</g>
<g stroke="#bf40b5" stroke-width="2" fill="none">
<line x1="1804.3" y1="289.9" x2="1804.3" y2="305.3"/>
<line x1="1804.3" y1="342.8" x2="1804.3" y2="376.8"/>
<line x1="1801.3" y1="289.9" x2="1807.3" y2="289.9"/>
<line x1="1801.3" y1="376.8" x2="1807.3" y2="376.8"/>
<rect x="1798.3" y="305.3" width="12" height="37.5" fill="#bf40b5" fill-opacity="0.5"/>
<line x1="1798.3" y1="307.9" x2="1810.3" y2="307.9"/>
<line x1="1798.3" y1="322.3" x2="1810.3" y2="322.3" stroke-dasharray="2.5,2.5" stroke-width="1.5"/>
</g>
<g stroke="#bf40a2" stroke-width="2" fill="none">
<line x1="1830.3" y1="255.8" x2="1830.3" y2="299.7"/>
<line x1="1830.3" y1="350.8" x2="1830.3" y2="423.1"/>
<line x1="1827.3" y1="255.8" x2="1833.3" y2="255.8"/>
<line x1="1827.3" y1="423.1" x2="1833.3" y2="423.1"/>
<rect x="1824.3" y="299.7" width="12" height="51.1" fill="#bf40a2" fill-opacity="0.5"/>
<line x1="1824.3" y1="327.9" x2="1836.3" y2="327.9"/>
<line x1="1824.3" y1="327.9" x2="1836.3" y2="327.9" stroke-dasharray="2.5,2.5" stroke-width="1.5"/>
</g>
<g stroke="#bf408e" stroke-width="2" fill="none">
<line x1="1856.3" y1="292.7" x2="1856.3" y2="306.3"/>
<line x1="1856.3" y1="353.4" x2="1856.3" y2="355.4"/>
<line x1="1853.3" y1="292.7" x2="1859.3" y2="292.7"/>
<line x1="1853.3" y1="355.4" x2="1859.3" y2="355.4"/>
<rect x="1850.3" y="306.3" width="12" height="47.1" fill="#bf408e" fill-opacity="0.5"/>
<line x1="1850.3" y1="334.4" x2="1862.3" y2="334.4"/>
<line x1="1850.3" y1="330.3" x2="1862.3" y2="330.3" stroke-dasharray="2.5,2.5" stroke-width="1.5"/>
</g>
<g stroke="#bf407b" stroke-width="2" fill="none">
<line x1="1882.3" y1="290.7" x2="1882.3" y2="300.3"/>
<line x1="1882.3" y1="352.0" x2="1882.3" y2="424.5"/>
<line x1="1879.3" y1="290.7" x2="1885.3" y2="290.7"/>
<line x1="1879.3" y1="424.5" x2="1885.3" y2="424.5"/>
<rect x="1876.3" y="300.3" width="12" height="51.7" fill="#bf407b" fill-opacity="0.5"/>
<line x1="1876.3" y1="316.9" x2="1888.3" y2="316.9"/>
<line x1="1876.3" y1="330.3" x2="1888.3" y2="330.3" stroke-dasharray="2.5,2.5" stroke-width="1.5"/>
</g>
<g stroke="#bf4067" stroke-width="2" fill="none">
<line x1="1908.3" y1="318.9" x2="1908.3" y2="324.7"/>
<line x1="1908.3" y1="343.4" x2="1908.3" y2="343.4"/>
<line x1="1905.3" y1="318.9" x2="1911.3" y2="318.9"/>
<line x1="1905.3" y1="343.4" x2="1911.3" y2="343.4"/>
<rect x="1902.3" y="324.7" width="12" height="18.7" fill="#bf4067" fill-opacity="0.5"/>
<line x1="1902.3" y1="340.0" x2="1914.3" y2="340.0"/>
<line x1="1902.3" y1="334.4" x2="1914.3" y2="334.4" stroke-dasharray="2.5,2.5" stroke-width="1.5"/>
</g>
<g stroke="#bf4053" stroke-width="2" fill="none">
<line x1="1934.4" y1="253.8" x2="1934.4" y2="309.3"/>
<line x1="1934.4" y1="353.8" x2="1934.4" y2="400.4"/>
<line x1="1931.4" y1="253.8" x2="1937.4" y2="253.8"/>
<line x1="1931.4" y1="400.4" x2="1937.4" y2="400.4"/>
<rect x="1928.4" y="309.3" width="12" height="44.5" fill="#bf4053" fill-opacity="0.5"/>
<line x1="1928.4" y1="340.4" x2="1940.4" y2="340.4"/>
<line x1="1928.4" y1="338.8" x2="1940.4" y2="338.8" stroke-dasharray="2.5,2.5" stroke-width="1.5"/>
</g>
<circle cx="1934.4" cy="444.5" r="2.6" fill="#bf4053"/>
<g stroke="#bf4040" stroke-width="2" fill="none">
<line x1="1960.4" y1="254.8" x2="1960.4" y2="314.7"/>
<line x1="1960.4" y1="375.8" x2="1960.4" y2="447.5"/>
<line x1="1957.4" y1="254.8" x2="1963.4" y2="254.8"/>
<line x1="1957.4" y1="447.5" x2="1963.4" y2="447.5"/>
<rect x="1954.4" y="314.7" width="12" height="61.1" fill="#bf4040" fill-opacity="0.5"/>
<line x1="1954.4" y1="342.8" x2="1966.4" y2="342.8"/>
<line x1="1954.4" y1="347.4" x2="1966.4" y2="347.4" stroke-dasharray="2.5,2.5" stroke-width="1.5"/>
</g>
<line x1="1258.5" y1="92" x2="1258.5" y2="183" stroke="#000" stroke-width="2.2"/>
<path d="M1255.2,181.5 L1261.8,181.5 L1258.5,191.5 Z" fill="#000"/>
<text x="1344.5" y="96.5" font-family="'Liberation Serif','Times New Roman',serif" font-weight="bold" font-size="21" fill="#111" textLength="363" lengthAdjust="spacingAndGlyphs">mRNA expression (Affy) : BCL2L13</text>
<text transform="translate(946.1,493) scale(1,1.2) rotate(-45)" text-anchor="end" font-family="'Liberation Serif','Times New Roman',serif" font-weight="bold" font-size="18" fill="#111" textLength="73.6" lengthAdjust="spacingAndGlyphs">CML (15)</text>
<text transform="translate(972.4,493) scale(1,1.2) rotate(-45)" text-anchor="end" font-family="'Liberation Serif','Times New Roman',serif" font-weight="bold" font-size="18" fill="#111" textLength="156.8" lengthAdjust="spacingAndGlyphs">mesothelioma (11)</text>
<text transform="translate(998.7,493) scale(1,1.2) rotate(-45)" text-anchor="end" font-family="'Liberation Serif','Times New Roman',serif" font-weight="bold" font-size="18" fill="#111" textLength="124.9" lengthAdjust="spacingAndGlyphs">melanoma (63)</text>
<text transform="translate(1025.0,493) scale(1,1.2) rotate(-45)" text-anchor="end" font-family="'Liberation Serif','Times New Roman',serif" font-weight="bold" font-size="18" fill="#111" textLength="172.4" lengthAdjust="spacingAndGlyphs">medulloblastoma (4)</text>
<text transform="translate(1051.3,493) scale(1,1.2) rotate(-45)" text-anchor="end" font-family="'Liberation Serif','Times New Roman',serif" font-weight="bold" font-size="18" fill="#111" textLength="125.2" lengthAdjust="spacingAndGlyphs">esophagus (27)</text>
<text transform="translate(1077.6,493) scale(1,1.2) rotate(-45)" text-anchor="end" font-family="'Liberation Serif','Times New Roman',serif" font-weight="bold" font-size="18" fill="#111" textLength="200.0" lengthAdjust="spacingAndGlyphs">upper_aerodigestive(33)</text>
<text transform="translate(1103.9,493) scale(1,1.2) rotate(-45)" text-anchor="end" font-family="'Liberation Serif','Times New Roman',serif" font-weight="bold" font-size="18" fill="#111" textLength="188.2" lengthAdjust="spacingAndGlyphs">lymphoma_Burkitt(11)</text>
<text transform="translate(1130.2,493) scale(1,1.2) rotate(-45)" text-anchor="end" font-family="'Liberation Serif','Times New Roman',serif" font-weight="bold" font-size="18" fill="#111" textLength="92.0" lengthAdjust="spacingAndGlyphs">kidney(37)</text>
<text transform="translate(1156.5,493) scale(1,1.2) rotate(-45)" text-anchor="end" font-family="'Liberation Serif','Times New Roman',serif" font-weight="bold" font-size="18" fill="#111" textLength="90.6" lengthAdjust="spacingAndGlyphs">prostate(8)</text>
<text transform="translate(1182.8,493) scale(1,1.2) rotate(-45)" text-anchor="end" font-family="'Liberation Serif','Times New Roman',serif" font-weight="bold" font-size="18" fill="#111" textLength="171.7" lengthAdjust="spacingAndGlyphs">giant_Cell_tumour(3)</text>
<text transform="translate(1209.1,493) scale(1,1.2) rotate(-45)" text-anchor="end" font-family="'Liberation Serif','Times New Roman',serif" font-weight="bold" font-size="18" fill="#111" textLength="182.5" lengthAdjust="spacingAndGlyphs">lymphoma_DLBCL(18)</text>
<text transform="translate(1235.4,493) scale(1,1.2) rotate(-45)" text-anchor="end" font-family="'Liberation Serif','Times New Roman',serif" font-weight="bold" font-size="18" fill="#111" textLength="67.1" lengthAdjust="spacingAndGlyphs">other(8)</text>
<text transform="translate(1261.7,493) scale(1,1.2) rotate(-45)" text-anchor="end" font-family="'Liberation Serif','Times New Roman',serif" font-weight="bold" font-size="18" fill="#111" textLength="79.5" lengthAdjust="spacingAndGlyphs">AML(39)</text>
<text transform="translate(1288.0,493) scale(1,1.2) rotate(-45)" text-anchor="end" font-family="'Liberation Serif','Times New Roman',serif" font-weight="bold" font-size="18" fill="#111" textLength="119.2" lengthAdjust="spacingAndGlyphs">lung_NSC(136)</text>
<text transform="translate(1314.3,493) scale(1,1.2) rotate(-45)" text-anchor="end" font-family="'Liberation Serif','Times New Roman',serif" font-weight="bold" font-size="18" fill="#111" textLength="226.8" lengthAdjust="spacingAndGlyphs">B-cell_lymphoma_other(16)</text>
<text transform="translate(1340.6,493) scale(1,1.2) rotate(-45)" text-anchor="end" font-family="'Liberation Serif','Times New Roman',serif" font-weight="bold" font-size="18" fill="#111" textLength="103.7" lengthAdjust="spacingAndGlyphs">pancreas(46)</text>
<text transform="translate(1366.9,493) scale(1,1.2) rotate(-45)" text-anchor="end" font-family="'Liberation Serif','Times New Roman',serif" font-weight="bold" font-size="18" fill="#111" textLength="141.6" lengthAdjust="spacingAndGlyphs">urinary_tract(28)</text>
<text transform="translate(1393.2,493) scale(1,1.2) rotate(-45)" text-anchor="end" font-family="'Liberation Serif','Times New Roman',serif" font-weight="bold" font-size="18" fill="#111" textLength="85.4" lengthAdjust="spacingAndGlyphs">glioma(66)</text>
<text transform="translate(1419.5,493) scale(1,1.2) rotate(-45)" text-anchor="end" font-family="'Liberation Serif','Times New Roman',serif" font-weight="bold" font-size="18" fill="#111" textLength="84.5" lengthAdjust="spacingAndGlyphs">breast(60)</text>
<text transform="translate(1445.8,493) scale(1,1.2) rotate(-45)" text-anchor="end" font-family="'Liberation Serif','Times New Roman',serif" font-weight="bold" font-size="18" fill="#111" textLength="118.2" lengthAdjust="spacingAndGlyphs">soft_tissue(20)</text>
<text transform="translate(1472.1,493) scale(1,1.2) rotate(-45)" text-anchor="end" font-family="'Liberation Serif','Times New Roman',serif" font-weight="bold" font-size="18" fill="#111" textLength="72.3" lengthAdjust="spacingAndGlyphs">liver(29)</text>
<text transform="translate(1498.4,493) scale(1,1.2) rotate(-45)" text-anchor="end" font-family="'Liberation Serif','Times New Roman',serif" font-weight="bold" font-size="18" fill="#111" textLength="115.2" lengthAdjust="spacingAndGlyphs">colorectal(63)</text>
<text transform="translate(1524.7,493) scale(1,1.2) rotate(-45)" text-anchor="end" font-family="'Liberation Serif','Times New Roman',serif" font-weight="bold" font-size="18" fill="#111" textLength="126.2" lengthAdjust="spacingAndGlyphs">meningioma(3)</text>
<text transform="translate(1551.0,493) scale(1,1.2) rotate(-45)" text-anchor="end" font-family="'Liberation Serif','Times New Roman',serif" font-weight="bold" font-size="18" fill="#111" textLength="146.5" lengthAdjust="spacingAndGlyphs">endometrium(28)</text>
<text transform="translate(1577.3,493) scale(1,1.2) rotate(-45)" text-anchor="end" font-family="'Liberation Serif','Times New Roman',serif" font-weight="bold" font-size="18" fill="#111" textLength="161.0" lengthAdjust="spacingAndGlyphs">chondrosarcoma(4)</text>
<text transform="translate(1603.6,493) scale(1,1.2) rotate(-45)" text-anchor="end" font-family="'Liberation Serif','Times New Roman',serif" font-weight="bold" font-size="18" fill="#111" textLength="96.1" lengthAdjust="spacingAndGlyphs">bile_duct(8)</text>
<text transform="translate(1629.9,493) scale(1,1.2) rotate(-45)" text-anchor="end" font-family="'Liberation Serif','Times New Roman',serif" font-weight="bold" font-size="18" fill="#111" textLength="78.8" lengthAdjust="spacingAndGlyphs">ovary(55)</text>
<text transform="translate(1656.2,493) scale(1,1.2) rotate(-45)" text-anchor="end" font-family="'Liberation Serif','Times New Roman',serif" font-weight="bold" font-size="18" fill="#111" textLength="106.0" lengthAdjust="spacingAndGlyphs">stomach(39)</text>
<text transform="translate(1682.5,493) scale(1,1.2) rotate(-45)" text-anchor="end" font-family="'Liberation Serif','Times New Roman',serif" font-weight="bold" font-size="18" fill="#111" textLength="148.4" lengthAdjust="spacingAndGlyphs">osteosarcoma(10)</text>
<text transform="translate(1708.8,493) scale(1,1.2) rotate(-45)" text-anchor="end" font-family="'Liberation Serif','Times New Roman',serif" font-weight="bold" font-size="18" fill="#111" textLength="160.1" lengthAdjust="spacingAndGlyphs">neuroblastoma(17)</text>
<text transform="translate(1735.1,493) scale(1,1.2) rotate(-45)" text-anchor="end" font-family="'Liberation Serif','Times New Roman',serif" font-weight="bold" font-size="18" fill="#111" textLength="92.5" lengthAdjust="spacingAndGlyphs">thyroid(12)</text>
<text transform="translate(1761.4,493) scale(1,1.2) rotate(-45)" text-anchor="end" font-family="'Liberation Serif','Times New Roman',serif" font-weight="bold" font-size="18" fill="#111" textLength="225.1" lengthAdjust="spacingAndGlyphs">T-cell_lymphoma_other(11)</text>
<text transform="translate(1787.7,493) scale(1,1.2) rotate(-45)" text-anchor="end" font-family="'Liberation Serif','Times New Roman',serif" font-weight="bold" font-size="18" fill="#111" textLength="198.6" lengthAdjust="spacingAndGlyphs">lymphoma_Hodgkin(13)</text>
<text transform="translate(1814.0,493) scale(1,1.2) rotate(-45)" text-anchor="end" font-family="'Liberation Serif','Times New Roman',serif" font-weight="bold" font-size="18" fill="#111" textLength="119.6" lengthAdjust="spacingAndGlyphs">B-cell_ALL(13)</text>
<text transform="translate(1840.3,493) scale(1,1.2) rotate(-45)" text-anchor="end" font-family="'Liberation Serif','Times New Roman',serif" font-weight="bold" font-size="18" fill="#111" textLength="185.4" lengthAdjust="spacingAndGlyphs">multiple_myeloma(29)</text>
<text transform="translate(1866.6,493) scale(1,1.2) rotate(-45)" text-anchor="end" font-family="'Liberation Serif','Times New Roman',serif" font-weight="bold" font-size="18" fill="#111" textLength="66.4" lengthAdjust="spacingAndGlyphs">NA(387)</text>
<text transform="translate(1892.9,493) scale(1,1.2) rotate(-45)" text-anchor="end" font-family="'Liberation Serif','Times New Roman',serif" font-weight="bold" font-size="18" fill="#111" textLength="166.1" lengthAdjust="spacingAndGlyphs">Ewings_sarcoma(12)</text>
<text transform="translate(1919.2,493) scale(1,1.2) rotate(-45)" text-anchor="end" font-family="'Liberation Serif','Times New Roman',serif" font-weight="bold" font-size="18" fill="#111" textLength="149.5" lengthAdjust="spacingAndGlyphs">leukemia_other(5)</text>
<text transform="translate(1945.5,493) scale(1,1.2) rotate(-45)" text-anchor="end" font-family="'Liberation Serif','Times New Roman',serif" font-weight="bold" font-size="18" fill="#111" textLength="119.4" lengthAdjust="spacingAndGlyphs">T-cell_ALL(16)</text>
<text transform="translate(1971.8,493) scale(1,1.2) rotate(-45)" text-anchor="end" font-family="'Liberation Serif','Times New Roman',serif" font-weight="bold" font-size="18" fill="#111" textLength="157.1" lengthAdjust="spacingAndGlyphs">lung_small_cell(54)</text>
<rect x="164.2" y="853.7" width="1762.8" height="538.3" fill="#fff" stroke="none"/>
<line x1="164.2" y1="1377.0" x2="1927.0" y2="1377.0" stroke="#e0e0e0" stroke-width="1.6"/>
<line x1="164.2" y1="1326.9" x2="1927.0" y2="1326.9" stroke="#e0e0e0" stroke-width="1.6"/>
<line x1="164.2" y1="1276.8" x2="1927.0" y2="1276.8" stroke="#e0e0e0" stroke-width="1.6"/>
<line x1="164.2" y1="1226.7" x2="1927.0" y2="1226.7" stroke="#e0e0e0" stroke-width="1.6"/>
<line x1="164.2" y1="1176.6" x2="1927.0" y2="1176.6" stroke="#e0e0e0" stroke-width="1.6"/>
<line x1="164.2" y1="1126.5" x2="1927.0" y2="1126.5" stroke="#e0e0e0" stroke-width="1.6"/>
<line x1="164.2" y1="1076.4" x2="1927.0" y2="1076.4" stroke="#e0e0e0" stroke-width="1.6"/>
<line x1="164.2" y1="1026.3" x2="1927.0" y2="1026.3" stroke="#e0e0e0" stroke-width="1.6"/>
<line x1="164.2" y1="976.2" x2="1927.0" y2="976.2" stroke="#e0e0e0" stroke-width="1.6"/>
<line x1="164.2" y1="926.1" x2="1927.0" y2="926.1" stroke="#e0e0e0" stroke-width="1.6"/>
<line x1="164.2" y1="876.0" x2="1927.0" y2="876.0" stroke="#e0e0e0" stroke-width="1.6"/>
<line x1="251.7" y1="853.7" x2="251.7" y2="1392.0" stroke="#e0e0e0" stroke-width="1.6"/>
<line x1="331.2" y1="853.7" x2="331.2" y2="1392.0" stroke="#e0e0e0" stroke-width="1.6"/>
<line x1="410.6" y1="853.7" x2="410.6" y2="1392.0" stroke="#e0e0e0" stroke-width="1.6"/>
<line x1="490.0" y1="853.7" x2="490.0" y2="1392.0" stroke="#e0e0e0" stroke-width="1.6"/>
<line x1="569.5" y1="853.7" x2="569.5" y2="1392.0" stroke="#e0e0e0" stroke-width="1.6"/>
<line x1="648.9" y1="853.7" x2="648.9" y2="1392.0" stroke="#e0e0e0" stroke-width="1.6"/>
<line x1="728.4" y1="853.7" x2="728.4" y2="1392.0" stroke="#e0e0e0" stroke-width="1.6"/>
<line x1="807.8" y1="853.7" x2="807.8" y2="1392.0" stroke="#e0e0e0" stroke-width="1.6"/>
<line x1="887.2" y1="853.7" x2="887.2" y2="1392.0" stroke="#e0e0e0" stroke-width="1.6"/>
<line x1="966.7" y1="853.7" x2="966.7" y2="1392.0" stroke="#e0e0e0" stroke-width="1.6"/>
<line x1="1046.1" y1="853.7" x2="1046.1" y2="1392.0" stroke="#e0e0e0" stroke-width="1.6"/>
<line x1="1125.6" y1="853.7" x2="1125.6" y2="1392.0" stroke="#e0e0e0" stroke-width="1.6"/>
<line x1="1205.0" y1="853.7" x2="1205.0" y2="1392.0" stroke="#e0e0e0" stroke-width="1.6"/>
<line x1="1284.4" y1="853.7" x2="1284.4" y2="1392.0" stroke="#e0e0e0" stroke-width="1.6"/>
<line x1="1363.9" y1="853.7" x2="1363.9" y2="1392.0" stroke="#e0e0e0" stroke-width="1.6"/>
<line x1="1443.3" y1="853.7" x2="1443.3" y2="1392.0" stroke="#e0e0e0" stroke-width="1.6"/>
<line x1="1522.8" y1="853.7" x2="1522.8" y2="1392.0" stroke="#e0e0e0" stroke-width="1.6"/>
<line x1="1602.2" y1="853.7" x2="1602.2" y2="1392.0" stroke="#e0e0e0" stroke-width="1.6"/>
<line x1="1681.6" y1="853.7" x2="1681.6" y2="1392.0" stroke="#e0e0e0" stroke-width="1.6"/>
<line x1="1761.1" y1="853.7" x2="1761.1" y2="1392.0" stroke="#e0e0e0" stroke-width="1.6"/>
<line x1="1840.5" y1="853.7" x2="1840.5" y2="1392.0" stroke="#e0e0e0" stroke-width="1.6"/>
<rect x="164.2" y="853.7" width="1762.8" height="538.3" fill="none" stroke="#d6d6d6" stroke-width="1.6"/>
<line x1="160.5" y1="1377.0" x2="164.2" y2="1377.0" stroke="#444" stroke-width="1"/>
<text x="157.5" y="1381.6" text-anchor="end" font-family="'Liberation Sans',Arial,sans-serif" font-size="12.8" fill="#4d4d4d" stroke="#4d4d4d" stroke-width="0.3">0</text>
<line x1="160.5" y1="1276.8" x2="164.2" y2="1276.8" stroke="#444" stroke-width="1"/>
<text x="157.5" y="1281.4" text-anchor="end" font-family="'Liberation Sans',Arial,sans-serif" font-size="12.8" fill="#4d4d4d" stroke="#4d4d4d" stroke-width="0.3">1000</text>
<line x1="160.5" y1="1176.6" x2="164.2" y2="1176.6" stroke="#444" stroke-width="1"/>
<text x="157.5" y="1181.2" text-anchor="end" font-family="'Liberation Sans',Arial,sans-serif" font-size="12.8" fill="#4d4d4d" stroke="#4d4d4d" stroke-width="0.3">2000</text>
<line x1="160.5" y1="1076.4" x2="164.2" y2="1076.4" stroke="#444" stroke-width="1"/>
<text x="157.5" y="1081.0" text-anchor="end" font-family="'Liberation Sans',Arial,sans-serif" font-size="12.8" fill="#4d4d4d" stroke="#4d4d4d" stroke-width="0.3">3000</text>
<line x1="160.5" y1="976.2" x2="164.2" y2="976.2" stroke="#444" stroke-width="1"/>
<text x="157.5" y="980.8" text-anchor="end" font-family="'Liberation Sans',Arial,sans-serif" font-size="12.8" fill="#4d4d4d" stroke="#4d4d4d" stroke-width="0.3">4000</text>
<line x1="160.5" y1="876.0" x2="164.2" y2="876.0" stroke="#444" stroke-width="1"/>
<text x="157.5" y="880.6" text-anchor="end" font-family="'Liberation Sans',Arial,sans-serif" font-size="12.8" fill="#4d4d4d" stroke="#4d4d4d" stroke-width="0.3">5000</text>
<line x1="212.0" y1="1392.0" x2="212.0" y2="1395.0" stroke="#444" stroke-width="1.2"/>
<line x1="291.4" y1="1392.0" x2="291.4" y2="1395.0" stroke="#444" stroke-width="1.2"/>
<line x1="370.9" y1="1392.0" x2="370.9" y2="1395.0" stroke="#444" stroke-width="1.2"/>
<line x1="450.3" y1="1392.0" x2="450.3" y2="1395.0" stroke="#444" stroke-width="1.2"/>
<line x1="529.8" y1="1392.0" x2="529.8" y2="1395.0" stroke="#444" stroke-width="1.2"/>
<line x1="609.2" y1="1392.0" x2="609.2" y2="1395.0" stroke="#444" stroke-width="1.2"/>
<line x1="688.6" y1="1392.0" x2="688.6" y2="1395.0" stroke="#444" stroke-width="1.2"/>
<line x1="768.1" y1="1392.0" x2="768.1" y2="1395.0" stroke="#444" stroke-width="1.2"/>
<line x1="847.5" y1="1392.0" x2="847.5" y2="1395.0" stroke="#444" stroke-width="1.2"/>
<line x1="927.0" y1="1392.0" x2="927.0" y2="1395.0" stroke="#444" stroke-width="1.2"/>
<line x1="1006.4" y1="1392.0" x2="1006.4" y2="1395.0" stroke="#444" stroke-width="1.2"/>
<line x1="1085.8" y1="1392.0" x2="1085.8" y2="1395.0" stroke="#444" stroke-width="1.2"/>
<line x1="1165.3" y1="1392.0" x2="1165.3" y2="1395.0" stroke="#444" stroke-width="1.2"/>
<line x1="1244.7" y1="1392.0" x2="1244.7" y2="1395.0" stroke="#444" stroke-width="1.2"/>
<line x1="1324.2" y1="1392.0" x2="1324.2" y2="1395.0" stroke="#444" stroke-width="1.2"/>
<line x1="1403.6" y1="1392.0" x2="1403.6" y2="1395.0" stroke="#444" stroke-width="1.2"/>
<line x1="1483.0" y1="1392.0" x2="1483.0" y2="1395.0" stroke="#444" stroke-width="1.2"/>
<line x1="1562.5" y1="1392.0" x2="1562.5" y2="1395.0" stroke="#444" stroke-width="1.2"/>
<line x1="1641.9" y1="1392.0" x2="1641.9" y2="1395.0" stroke="#444" stroke-width="1.2"/>
<line x1="1721.4" y1="1392.0" x2="1721.4" y2="1395.0" stroke="#444" stroke-width="1.2"/>
<line x1="1800.8" y1="1392.0" x2="1800.8" y2="1395.0" stroke="#444" stroke-width="1.2"/>
<line x1="1880.2" y1="1392.0" x2="1880.2" y2="1395.0" stroke="#444" stroke-width="1.2"/>
<line x1="197.3" y1="1047.6" x2="197.3" y2="1327.9" stroke="#7d7d7d" stroke-width="2"/>
<rect x="184.2" y="1159.0" width="26.2" height="80.2" fill="#F8766D" stroke="#F8766D" stroke-width="1.2" style="filter:brightness(0.85)"/>
<rect x="185.0" y="1159.8" width="24.6" height="78.6" fill="#F8766D"/>
<line x1="184.2" y1="1204.0" x2="210.4" y2="1204.0" stroke="#4a3a36" stroke-width="2.6"/>
<line x1="226.7" y1="1071.4" x2="226.7" y2="1346.9" stroke="#333" stroke-width="3"/>
<rect x="214.2" y="1196.3" width="25.0" height="88.7" fill="#F8766D" stroke="#333" stroke-width="3"/>
<line x1="214.2" y1="1238.7" x2="239.2" y2="1238.7" stroke="#333" stroke-width="4.5"/>
<line x1="276.7" y1="1268.4" x2="276.7" y2="1365.8" stroke="#7d7d7d" stroke-width="2"/>
<rect x="263.6" y="1312.3" width="26.2" height="32.6" fill="#EC8239" stroke="#EC8239" stroke-width="1.2" style="filter:brightness(0.85)"/>
<rect x="264.4" y="1313.1" width="24.6" height="31.0" fill="#EC8239"/>
<line x1="263.6" y1="1332.6" x2="289.8" y2="1332.6" stroke="#4a3a36" stroke-width="2.6"/>
<line x1="306.1" y1="1112.5" x2="306.1" y2="1342.0" stroke="#333" stroke-width="3"/>
<rect x="293.6" y="1213.8" width="25.0" height="73.0" fill="#EC8239" stroke="#333" stroke-width="3"/>
<line x1="293.6" y1="1263.4" x2="318.6" y2="1263.4" stroke="#333" stroke-width="4.5"/>
<line x1="356.2" y1="1150.0" x2="356.2" y2="1348.4" stroke="#7d7d7d" stroke-width="2"/>
<rect x="343.1" y="1215.8" width="26.2" height="68.4" fill="#DB8E00" stroke="#DB8E00" stroke-width="1.2" style="filter:brightness(0.85)"/>
<rect x="343.9" y="1216.6" width="24.6" height="66.8" fill="#DB8E00"/>
<line x1="343.1" y1="1255.0" x2="369.3" y2="1255.0" stroke="#4a3a36" stroke-width="2.6"/>
<line x1="385.6" y1="1116.8" x2="385.6" y2="1349.0" stroke="#333" stroke-width="3"/>
<rect x="373.1" y="1226.6" width="25.0" height="76.4" fill="#DB8E00" stroke="#333" stroke-width="3"/>
<line x1="373.1" y1="1271.2" x2="398.1" y2="1271.2" stroke="#333" stroke-width="4.5"/>
<line x1="435.6" y1="1103.2" x2="435.6" y2="1330.0" stroke="#7d7d7d" stroke-width="2"/>
<rect x="422.5" y="1207.1" width="26.2" height="71.0" fill="#C79800" stroke="#C79800" stroke-width="1.2" style="filter:brightness(0.85)"/>
<rect x="423.3" y="1207.9" width="24.6" height="69.4" fill="#C79800"/>
<line x1="422.5" y1="1249.2" x2="448.7" y2="1249.2" stroke="#4a3a36" stroke-width="2.6"/>
<line x1="465.0" y1="1076.8" x2="465.0" y2="1339.8" stroke="#333" stroke-width="3"/>
<rect x="452.5" y="1195.8" width="25.0" height="81.6" fill="#C79800" stroke="#333" stroke-width="3"/>
<line x1="452.5" y1="1241.3" x2="477.5" y2="1241.3" stroke="#333" stroke-width="4.5"/>
<line x1="515.1" y1="1161.2" x2="515.1" y2="1358.6" stroke="#7d7d7d" stroke-width="2"/>
<rect x="502.0" y="1251.0" width="26.2" height="62.7" fill="#AEA200" stroke="#AEA200" stroke-width="1.2" style="filter:brightness(0.85)"/>
<rect x="502.8" y="1251.8" width="24.6" height="61.1" fill="#AEA200"/>
<line x1="502.0" y1="1296.5" x2="528.2" y2="1296.5" stroke="#4a3a36" stroke-width="2.6"/>
<line x1="544.5" y1="1126.1" x2="544.5" y2="1364.7" stroke="#333" stroke-width="3"/>
<rect x="532.0" y="1238.7" width="25.0" height="76.2" fill="#AEA200" stroke="#333" stroke-width="3"/>
<line x1="532.0" y1="1287.2" x2="557.0" y2="1287.2" stroke="#333" stroke-width="4.5"/>
<line x1="594.5" y1="1177.9" x2="594.5" y2="1334.2" stroke="#7d7d7d" stroke-width="2"/>
<rect x="581.4" y="1249.0" width="26.2" height="49.1" fill="#8FAA00" stroke="#8FAA00" stroke-width="1.2" style="filter:brightness(0.85)"/>
<rect x="582.2" y="1249.8" width="24.6" height="47.5" fill="#8FAA00"/>
<line x1="581.4" y1="1276.2" x2="607.6" y2="1276.2" stroke="#4a3a36" stroke-width="2.6"/>
<line x1="623.9" y1="1077.0" x2="623.9" y2="1341.8" stroke="#333" stroke-width="3"/>
<rect x="611.4" y="1203.7" width="25.0" height="86.4" fill="#8FAA00" stroke="#333" stroke-width="3"/>
<line x1="611.4" y1="1255.1" x2="636.4" y2="1255.1" stroke="#333" stroke-width="4.5"/>
<line x1="673.9" y1="1225.5" x2="673.9" y2="1355.7" stroke="#7d7d7d" stroke-width="2"/>
<rect x="660.8" y="1280.4" width="26.2" height="39.1" fill="#64B200" stroke="#64B200" stroke-width="1.2" style="filter:brightness(0.85)"/>
<rect x="661.6" y="1281.2" width="24.6" height="37.5" fill="#64B200"/>
<line x1="660.8" y1="1303.8" x2="687.0" y2="1303.8" stroke="#4a3a36" stroke-width="2.6"/>
<line x1="703.3" y1="1164.0" x2="703.3" y2="1358.0" stroke="#333" stroke-width="3"/>
<rect x="690.8" y="1248.1" width="25.0" height="60.2" fill="#64B200" stroke="#333" stroke-width="3"/>
<line x1="690.8" y1="1279.7" x2="715.8" y2="1279.7" stroke="#333" stroke-width="4.5"/>
<line x1="753.4" y1="1192.8" x2="753.4" y2="1352.2" stroke="#7d7d7d" stroke-width="2"/>
<rect x="740.3" y="1264.7" width="26.2" height="49.5" fill="#00B81B" stroke="#00B81B" stroke-width="1.2" style="filter:brightness(0.85)"/>
<rect x="741.1" y="1265.5" width="24.6" height="47.9" fill="#00B81B"/>
<line x1="740.3" y1="1291.9" x2="766.5" y2="1291.9" stroke="#4a3a36" stroke-width="2.6"/>
<line x1="782.8" y1="1087.4" x2="782.8" y2="1349.9" stroke="#333" stroke-width="3"/>
<rect x="770.3" y="1206.7" width="25.0" height="83.9" fill="#00B81B" stroke="#333" stroke-width="3"/>
<line x1="770.3" y1="1258.2" x2="795.3" y2="1258.2" stroke="#333" stroke-width="4.5"/>
<line x1="832.8" y1="1200.6" x2="832.8" y2="1353.4" stroke="#7d7d7d" stroke-width="2"/>
<rect x="819.7" y="1265.2" width="26.2" height="41.0" fill="#00BD5C" stroke="#00BD5C" stroke-width="1.2" style="filter:brightness(0.85)"/>
<rect x="820.5" y="1266.0" width="24.6" height="39.4" fill="#00BD5C"/>
<line x1="819.7" y1="1289.6" x2="845.9" y2="1289.6" stroke="#4a3a36" stroke-width="2.6"/>
<line x1="862.2" y1="971.8" x2="862.2" y2="1361.4" stroke="#333" stroke-width="3"/>
<rect x="849.7" y="1145.6" width="25.0" height="119.0" fill="#00BD5C" stroke="#333" stroke-width="3"/>
<line x1="849.7" y1="1214.0" x2="874.7" y2="1214.0" stroke="#333" stroke-width="4.5"/>
<line x1="912.3" y1="1231.3" x2="912.3" y2="1345.3" stroke="#7d7d7d" stroke-width="2"/>
<rect x="899.2" y="1286.6" width="26.2" height="36.8" fill="#00C085" stroke="#00C085" stroke-width="1.2" style="filter:brightness(0.85)"/>
<rect x="900.0" y="1287.4" width="24.6" height="35.2" fill="#00C085"/>
<line x1="899.2" y1="1306.8" x2="925.4" y2="1306.8" stroke="#4a3a36" stroke-width="2.6"/>
<line x1="941.7" y1="1183.0" x2="941.7" y2="1355.0" stroke="#333" stroke-width="3"/>
<rect x="929.2" y="1263.5" width="25.0" height="55.3" fill="#00C085" stroke="#333" stroke-width="3"/>
<line x1="929.2" y1="1295.8" x2="954.2" y2="1295.8" stroke="#333" stroke-width="4.5"/>
<line x1="991.7" y1="1219.2" x2="991.7" y2="1361.7" stroke="#7d7d7d" stroke-width="2"/>
<rect x="978.6" y="1277.6" width="26.2" height="49.9" fill="#00C1A7" stroke="#00C1A7" stroke-width="1.2" style="filter:brightness(0.85)"/>
<rect x="979.4" y="1278.4" width="24.6" height="48.3" fill="#00C1A7"/>
<line x1="978.6" y1="1304.2" x2="1004.8" y2="1304.2" stroke="#4a3a36" stroke-width="2.6"/>
<line x1="1021.1" y1="1148.6" x2="1021.1" y2="1343.5" stroke="#333" stroke-width="3"/>
<rect x="1008.6" y="1235.5" width="25.0" height="63.1" fill="#00C1A7" stroke="#333" stroke-width="3"/>
<line x1="1008.6" y1="1277.6" x2="1033.6" y2="1277.6" stroke="#333" stroke-width="4.5"/>
<line x1="1071.1" y1="1134.5" x2="1071.1" y2="1348.3" stroke="#7d7d7d" stroke-width="2"/>
<rect x="1058.0" y="1234.1" width="26.2" height="67.3" fill="#00BFC4" stroke="#00BFC4" stroke-width="1.2" style="filter:brightness(0.85)"/>
<rect x="1058.8" y="1234.9" width="24.6" height="65.7" fill="#00BFC4"/>
<line x1="1058.0" y1="1279.8" x2="1084.2" y2="1279.8" stroke="#4a3a36" stroke-width="2.6"/>
<line x1="1100.5" y1="1094.7" x2="1100.5" y2="1321.1" stroke="#333" stroke-width="3"/>
<rect x="1088.0" y="1194.8" width="25.0" height="67.3" fill="#00BFC4" stroke="#333" stroke-width="3"/>
<line x1="1088.0" y1="1230.5" x2="1113.0" y2="1230.5" stroke="#333" stroke-width="4.5"/>
<line x1="1150.6" y1="1164.8" x2="1150.6" y2="1335.9" stroke="#7d7d7d" stroke-width="2"/>
<rect x="1137.5" y="1243.9" width="26.2" height="57.5" fill="#00BADE" stroke="#00BADE" stroke-width="1.2" style="filter:brightness(0.85)"/>
<rect x="1138.3" y="1244.7" width="24.6" height="55.9" fill="#00BADE"/>
<line x1="1137.5" y1="1277.6" x2="1163.7" y2="1277.6" stroke="#4a3a36" stroke-width="2.6"/>
<line x1="1180.0" y1="1142.4" x2="1180.0" y2="1347.2" stroke="#333" stroke-width="3"/>
<rect x="1167.5" y="1241.7" width="25.0" height="66.1" fill="#00BADE" stroke="#333" stroke-width="3"/>
<line x1="1167.5" y1="1280.4" x2="1192.5" y2="1280.4" stroke="#333" stroke-width="4.5"/>
<line x1="1230.0" y1="1009.1" x2="1230.0" y2="1327.5" stroke="#7d7d7d" stroke-width="2"/>
<rect x="1216.9" y="1151.9" width="26.2" height="108.3" fill="#00B2F3" stroke="#00B2F3" stroke-width="1.2" style="filter:brightness(0.85)"/>
<rect x="1217.7" y="1152.7" width="24.6" height="106.7" fill="#00B2F3"/>
<line x1="1216.9" y1="1202.4" x2="1243.1" y2="1202.4" stroke="#4a3a36" stroke-width="2.6"/>
<line x1="1259.4" y1="1046.2" x2="1259.4" y2="1353.3" stroke="#333" stroke-width="3"/>
<rect x="1246.9" y="1170.4" width="25.0" height="84.2" fill="#00B2F3" stroke="#333" stroke-width="3"/>
<line x1="1246.9" y1="1217.3" x2="1271.9" y2="1217.3" stroke="#333" stroke-width="4.5"/>
<line x1="1309.5" y1="1079.8" x2="1309.5" y2="1311.8" stroke="#7d7d7d" stroke-width="2"/>
<rect x="1296.4" y="1181.7" width="26.2" height="85.2" fill="#00A6FF" stroke="#00A6FF" stroke-width="1.2" style="filter:brightness(0.85)"/>
<rect x="1297.2" y="1182.5" width="24.6" height="83.6" fill="#00A6FF"/>
<line x1="1296.4" y1="1222.0" x2="1322.6" y2="1222.0" stroke="#4a3a36" stroke-width="2.6"/>
<line x1="1338.9" y1="877.9" x2="1338.9" y2="1292.2" stroke="#333" stroke-width="3"/>
<rect x="1326.4" y="1026.5" width="25.0" height="143.1" fill="#00A6FF" stroke="#333" stroke-width="3"/>
<line x1="1326.4" y1="1112.1" x2="1351.4" y2="1112.1" stroke="#333" stroke-width="4.5"/>
<line x1="1388.9" y1="1081.8" x2="1388.9" y2="1322.5" stroke="#7d7d7d" stroke-width="2"/>
<rect x="1375.8" y="1189.2" width="26.2" height="82.2" fill="#7C96FF" stroke="#7C96FF" stroke-width="1.2" style="filter:brightness(0.85)"/>
<rect x="1376.6" y="1190.0" width="24.6" height="80.6" fill="#7C96FF"/>
<line x1="1375.8" y1="1232.1" x2="1402.0" y2="1232.1" stroke="#4a3a36" stroke-width="2.6"/>
<line x1="1418.3" y1="1062.4" x2="1418.3" y2="1333.7" stroke="#333" stroke-width="3"/>
<rect x="1405.8" y="1178.0" width="25.0" height="79.4" fill="#7C96FF" stroke="#333" stroke-width="3"/>
<line x1="1405.8" y1="1222.9" x2="1430.8" y2="1222.9" stroke="#333" stroke-width="4.5"/>
<line x1="1468.3" y1="1156.4" x2="1468.3" y2="1347.7" stroke="#7d7d7d" stroke-width="2"/>
<rect x="1455.2" y="1230.5" width="26.2" height="49.9" fill="#B385FF" stroke="#B385FF" stroke-width="1.2" style="filter:brightness(0.85)"/>
<rect x="1456.0" y="1231.3" width="24.6" height="48.3" fill="#B385FF"/>
<line x1="1455.2" y1="1258.0" x2="1481.4" y2="1258.0" stroke="#4a3a36" stroke-width="2.6"/>
<line x1="1497.7" y1="931.2" x2="1497.7" y2="1332.3" stroke="#333" stroke-width="3"/>
<rect x="1485.2" y="1090.5" width="25.0" height="133.8" fill="#B385FF" stroke="#333" stroke-width="3"/>
<line x1="1485.2" y1="1164.8" x2="1510.2" y2="1164.8" stroke="#333" stroke-width="4.5"/>
<line x1="1547.8" y1="1190.1" x2="1547.8" y2="1344.9" stroke="#7d7d7d" stroke-width="2"/>
<rect x="1534.7" y="1266.9" width="26.2" height="52.2" fill="#D874FD" stroke="#D874FD" stroke-width="1.2" style="filter:brightness(0.85)"/>
<rect x="1535.5" y="1267.7" width="24.6" height="50.6" fill="#D874FD"/>
<line x1="1534.7" y1="1300.8" x2="1560.9" y2="1300.8" stroke="#4a3a36" stroke-width="2.6"/>
<line x1="1577.2" y1="1149.4" x2="1577.2" y2="1355.6" stroke="#333" stroke-width="3"/>
<rect x="1564.7" y="1244.5" width="25.0" height="65.2" fill="#D874FD" stroke="#333" stroke-width="3"/>
<line x1="1564.7" y1="1282.6" x2="1589.7" y2="1282.6" stroke="#333" stroke-width="4.5"/>
<line x1="1627.2" y1="1173.2" x2="1627.2" y2="1347.2" stroke="#7d7d7d" stroke-width="2"/>
<rect x="1614.1" y="1238.3" width="26.2" height="44.9" fill="#EF67EB" stroke="#EF67EB" stroke-width="1.2" style="filter:brightness(0.85)"/>
<rect x="1614.9" y="1239.1" width="24.6" height="43.3" fill="#EF67EB"/>
<line x1="1614.1" y1="1259.4" x2="1640.3" y2="1259.4" stroke="#4a3a36" stroke-width="2.6"/>
<line x1="1656.6" y1="1156.4" x2="1656.6" y2="1337.9" stroke="#333" stroke-width="3"/>
<rect x="1644.1" y="1238.9" width="25.0" height="56.1" fill="#EF67EB" stroke="#333" stroke-width="3"/>
<line x1="1644.1" y1="1269.2" x2="1669.1" y2="1269.2" stroke="#333" stroke-width="4.5"/>
<line x1="1706.7" y1="1215.9" x2="1706.7" y2="1336.5" stroke="#7d7d7d" stroke-width="2"/>
<rect x="1693.6" y="1268.6" width="26.2" height="37.0" fill="#FD61D3" stroke="#FD61D3" stroke-width="1.2" style="filter:brightness(0.85)"/>
<rect x="1694.4" y="1269.4" width="24.6" height="35.4" fill="#FD61D3"/>
<line x1="1693.6" y1="1290.2" x2="1719.8" y2="1290.2" stroke="#4a3a36" stroke-width="2.6"/>
<line x1="1736.1" y1="1146.6" x2="1736.1" y2="1344.9" stroke="#333" stroke-width="3"/>
<rect x="1723.6" y="1224.9" width="25.0" height="54.6" fill="#FD61D3" stroke="#333" stroke-width="3"/>
<line x1="1723.6" y1="1254.6" x2="1748.6" y2="1254.6" stroke="#333" stroke-width="4.5"/>
<line x1="1786.1" y1="1261.3" x2="1786.1" y2="1341.5" stroke="#7d7d7d" stroke-width="2"/>
<rect x="1773.0" y="1289.6" width="26.2" height="24.3" fill="#FF63B6" stroke="#FF63B6" stroke-width="1.2" style="filter:brightness(0.85)"/>
<rect x="1773.8" y="1290.4" width="24.6" height="22.7" fill="#FF63B6"/>
<line x1="1773.0" y1="1300.6" x2="1799.2" y2="1300.6" stroke="#4a3a36" stroke-width="2.6"/>
<line x1="1815.5" y1="1217.3" x2="1815.5" y2="1353.3" stroke="#333" stroke-width="3"/>
<rect x="1803.0" y="1271.1" width="25.0" height="45.2" fill="#FF63B6" stroke="#333" stroke-width="3"/>
<line x1="1803.0" y1="1291.0" x2="1828.0" y2="1291.0" stroke="#333" stroke-width="4.5"/>
<line x1="1865.5" y1="1206.1" x2="1865.5" y2="1354.7" stroke="#7d7d7d" stroke-width="2"/>
<rect x="1852.4" y="1273.4" width="26.2" height="47.1" fill="#FF6B94" stroke="#FF6B94" stroke-width="1.2" style="filter:brightness(0.85)"/>
<rect x="1853.2" y="1274.2" width="24.6" height="45.5" fill="#FF6B94"/>
<line x1="1852.4" y1="1299.2" x2="1878.6" y2="1299.2" stroke="#4a3a36" stroke-width="2.6"/>
<line x1="1894.9" y1="1119.7" x2="1894.9" y2="1360.3" stroke="#333" stroke-width="3"/>
<rect x="1882.4" y="1239.7" width="25.0" height="82.8" fill="#FF6B94" stroke="#333" stroke-width="3"/>
<line x1="1882.4" y1="1289.4" x2="1907.4" y2="1289.4" stroke="#333" stroke-width="4.5"/>
<rect x="245.6" y="844.2" width="87" height="550" rx="2" fill="none" stroke="#000" stroke-width="4.6"/>
<text transform="translate(99.2,1345) rotate(-90)" font-family="'Liberation Sans',Arial,sans-serif" font-weight="bold" font-size="39" fill="#111" textLength="442" lengthAdjust="spacingAndGlyphs">BCL2L13 gene expression</text>
<text x="167.4" y="1432.5" font-family="'Liberation Sans',Arial,sans-serif" font-weight="bold" font-size="20.3" fill="#EC1C24" textLength="78.3" lengthAdjust="spacingAndGlyphs">Adrenal</text>
<text x="267.1" y="1432.5" font-family="'Liberation Sans',Arial,sans-serif" font-weight="bold" font-size="20.3" fill="#EC1C24" textLength="45.6" lengthAdjust="spacingAndGlyphs">AML</text>
<text x="327.3" y="1432.5" font-family="'Liberation Sans',Arial,sans-serif" font-weight="bold" font-size="20.3" fill="#1a1a1a" textLength="79.1" lengthAdjust="spacingAndGlyphs">Bladder</text>
<text x="418.1" y="1432.5" font-family="'Liberation Sans',Arial,sans-serif" font-weight="bold" font-size="20.3" fill="#1a1a1a" textLength="66.6" lengthAdjust="spacingAndGlyphs">Breast</text>
<text x="496.8" y="1432.5" font-family="'Liberation Sans',Arial,sans-serif" font-weight="bold" font-size="20.3" fill="#1a1a1a" textLength="60.0" lengthAdjust="spacingAndGlyphs">Colon</text>
<text x="569.9" y="1432.5" font-family="'Liberation Sans',Arial,sans-serif" font-weight="bold" font-size="20.3" fill="#EC1C24" textLength="63.8" lengthAdjust="spacingAndGlyphs">Esoph</text>
<text x="656.4" y="1432.5" font-family="'Liberation Sans',Arial,sans-serif" font-weight="bold" font-size="20.3" fill="#EC1C24" textLength="51.8" lengthAdjust="spacingAndGlyphs">Liver</text>
<text x="739.5" y="1432.5" font-family="'Liberation Sans',Arial,sans-serif" font-weight="bold" font-size="20.3" fill="#EC1C24" textLength="51.0" lengthAdjust="spacingAndGlyphs">Lung</text>
<text x="743.9" y="1457" font-family="'Liberation Sans',Arial,sans-serif" font-weight="bold" font-size="19.5" fill="#EC1C24" textLength="30.1" lengthAdjust="spacingAndGlyphs">AC</text>
<text x="827.5" y="1432.5" font-family="'Liberation Sans',Arial,sans-serif" font-weight="bold" font-size="20.3" fill="#EC1C24" textLength="50.4" lengthAdjust="spacingAndGlyphs">Lung</text>
<text x="833.0" y="1457" font-family="'Liberation Sans',Arial,sans-serif" font-weight="bold" font-size="19.5" fill="#EC1C24" textLength="29.3" lengthAdjust="spacingAndGlyphs">SC</text>
<text x="886.7" y="1432.5" font-family="'Liberation Sans',Arial,sans-serif" font-weight="bold" font-size="20.3" fill="#EC1C24" textLength="60.5" lengthAdjust="spacingAndGlyphs">Ovary</text>
<text x="961.8" y="1428.5" font-family="'Liberation Sans',Arial,sans-serif" font-weight="bold" font-size="15.8" fill="#EC1C24" textLength="80.9" lengthAdjust="spacingAndGlyphs">Pancreas</text>
<text x="1049.5" y="1428.5" font-family="'Liberation Sans',Arial,sans-serif" font-weight="bold" font-size="16.5" fill="#EC1C24" textLength="72.7" lengthAdjust="spacingAndGlyphs">Prostate</text>
<text x="1133.1" y="1429" font-family="'Liberation Sans',Arial,sans-serif" font-weight="bold" font-size="17.2" fill="#1a1a1a" textLength="67.3" lengthAdjust="spacingAndGlyphs">Rectum</text>
<text x="1219.0" y="1429.2" font-family="'Liberation Sans',Arial,sans-serif" font-weight="bold" font-size="18" fill="#1a1a1a" textLength="49.6" lengthAdjust="spacingAndGlyphs">Renal</text>
<text x="1230.3" y="1452.6" font-family="'Liberation Sans',Arial,sans-serif" font-weight="bold" font-size="18" fill="#1a1a1a" textLength="25.8" lengthAdjust="spacingAndGlyphs">CC</text>
<text x="1293.5" y="1429.2" font-family="'Liberation Sans',Arial,sans-serif" font-weight="bold" font-size="18" fill="#EC1C24" textLength="49.2" lengthAdjust="spacingAndGlyphs">Renal</text>
<text x="1299.2" y="1452.6" font-family="'Liberation Sans',Arial,sans-serif" font-weight="bold" font-size="18" fill="#EC1C24" textLength="27.6" lengthAdjust="spacingAndGlyphs">CH</text>
<text x="1380.1" y="1429.2" font-family="'Liberation Sans',Arial,sans-serif" font-weight="bold" font-size="18" fill="#1a1a1a" textLength="49.5" lengthAdjust="spacingAndGlyphs">Renal</text>
<text x="1391.3" y="1452.6" font-family="'Liberation Sans',Arial,sans-serif" font-weight="bold" font-size="18" fill="#1a1a1a" textLength="25.9" lengthAdjust="spacingAndGlyphs">PA</text>
<text x="1459.7" y="1429.2" font-family="'Liberation Sans',Arial,sans-serif" font-weight="bold" font-size="19.3" fill="#EC1C24" textLength="38.0" lengthAdjust="spacingAndGlyphs">Skin</text>
<text x="1522.1" y="1429.2" font-family="'Liberation Sans',Arial,sans-serif" font-weight="bold" font-size="18" fill="#EC1C24" textLength="76.9" lengthAdjust="spacingAndGlyphs">Stomach</text>
<text x="1621.7" y="1429.2" font-family="'Liberation Sans',Arial,sans-serif" font-weight="bold" font-size="18" fill="#1a1a1a" textLength="52.6" lengthAdjust="spacingAndGlyphs">Testis</text>
<text x="1684.9" y="1429.2" font-family="'Liberation Sans',Arial,sans-serif" font-weight="bold" font-size="18" fill="#EC1C24" textLength="66.5" lengthAdjust="spacingAndGlyphs">Thyroid</text>
<text x="1768.8" y="1429.2" font-family="'Liberation Sans',Arial,sans-serif" font-weight="bold" font-size="18" fill="#1a1a1a" textLength="62.0" lengthAdjust="spacingAndGlyphs">Ulterus</text>
<text x="1786.1" y="1452.6" font-family="'Liberation Sans',Arial,sans-serif" font-weight="bold" font-size="18" fill="#1a1a1a" textLength="27.6" lengthAdjust="spacingAndGlyphs">CS</text>
<text x="1850.1" y="1429.2" font-family="'Liberation Sans',Arial,sans-serif" font-weight="bold" font-size="18" fill="#1a1a1a" textLength="61.9" lengthAdjust="spacingAndGlyphs">Ulterus</text>
<text x="1868.5" y="1452.6" font-family="'Liberation Sans',Arial,sans-serif" font-weight="bold" font-size="18" fill="#1a1a1a" textLength="25.9" lengthAdjust="spacingAndGlyphs">ES</text>
<text x="246.8" y="1421.5" font-family="'Liberation Sans',Arial,sans-serif" font-weight="bold" font-size="9" fill="#EC1C24">*</text>
<text x="317.4" y="1421.5" font-family="'Liberation Sans',Arial,sans-serif" font-weight="bold" font-size="9" fill="#EC1C24">*</text>
<text x="640.4" y="1421.5" font-family="'Liberation Sans',Arial,sans-serif" font-weight="bold" font-size="9" fill="#EC1C24">*</text>
<text x="711.8" y="1421.5" font-family="'Liberation Sans',Arial,sans-serif" font-weight="bold" font-size="9" fill="#EC1C24">*</text>
<text x="780.5" y="1447.5" font-family="'Liberation Sans',Arial,sans-serif" font-weight="bold" font-size="9" fill="#EC1C24">*</text>
<text x="866.2" y="1447.5" font-family="'Liberation Sans',Arial,sans-serif" font-weight="bold" font-size="9" fill="#EC1C24">*</text>
<text x="951.1" y="1421.5" font-family="'Liberation Sans',Arial,sans-serif" font-weight="bold" font-size="9" fill="#EC1C24">*</text>
<text x="1046.7" y="1422" font-family="'Liberation Sans',Arial,sans-serif" font-weight="bold" font-size="9" fill="#EC1C24">*</text>
<text x="1124.4" y="1421.5" font-family="'Liberation Sans',Arial,sans-serif" font-weight="bold" font-size="9" fill="#EC1C24">*</text>
<text x="1330.1" y="1443.5" font-family="'Liberation Sans',Arial,sans-serif" font-weight="bold" font-size="9" fill="#EC1C24">*</text>
<text x="1501.6" y="1421.5" font-family="'Liberation Sans',Arial,sans-serif" font-weight="bold" font-size="9" fill="#EC1C24">*</text>
<text x="1603.8" y="1421.5" font-family="'Liberation Sans',Arial,sans-serif" font-weight="bold" font-size="9" fill="#EC1C24">*</text>
<text x="1756.2" y="1421.5" font-family="'Liberation Sans',Arial,sans-serif" font-weight="bold" font-size="9" fill="#EC1C24">*</text>
<line x1="305.2" y1="1683.3" x2="305.2" y2="2102.2" stroke="#000" stroke-width="4.8"/>
<line x1="302.8" y1="2092.5" x2="805.8" y2="2092.5" stroke="#000" stroke-width="4.5"/>
<line x1="296.5" y1="1889.3" x2="305" y2="1889.3" stroke="#000" stroke-width="4.2"/>
<line x1="296.5" y1="1686.1" x2="305" y2="1686.1" stroke="#000" stroke-width="4.2"/>
<line x1="296.5" y1="2092.5" x2="305" y2="2092.5" stroke="#000" stroke-width="4.2"/>
<line x1="470.7" y1="2092" x2="470.7" y2="2102.5" stroke="#000" stroke-width="4.2"/>
<line x1="637.2" y1="2092" x2="637.2" y2="2102.5" stroke="#000" stroke-width="4.2"/>
<line x1="803.5" y1="2092" x2="803.5" y2="2102.5" stroke="#000" stroke-width="4.2"/>
<text x="272.8" y="2102.5" text-anchor="end" font-family="'Liberation Sans',Arial,sans-serif" font-size="28" fill="#000" stroke="#000" stroke-width="0.7">0</text>
<text x="270.5" y="1899.3" text-anchor="end" font-family="'Liberation Sans',Arial,sans-serif" font-size="28" fill="#000" stroke="#000" stroke-width="0.7">1</text>
<text x="272.5" y="1696.1" text-anchor="end" font-family="'Liberation Sans',Arial,sans-serif" font-size="28" fill="#000" stroke="#000" stroke-width="0.7">2</text>
<rect x="354.6" y="1890.3" width="67.5" height="200.7" fill="#646464" stroke="#1e1e1e" stroke-width="1.3"/>
<line x1="388.4" y1="1883.3" x2="388.4" y2="1895" stroke="#111" stroke-width="1.5"/>
<line x1="385.9" y1="1883.3" x2="390.9" y2="1883.3" stroke="#111" stroke-width="1.5"/>
<line x1="385.9" y1="1895" x2="390.9" y2="1895" stroke="#111" stroke-width="1.5"/>
<rect x="521.9" y="1958.2" width="66.3" height="132.8" fill="#646464" stroke="#1e1e1e" stroke-width="1.3"/>
<line x1="555.0" y1="1937" x2="555.0" y2="1980.7" stroke="#111" stroke-width="1.5"/>
<line x1="552.5" y1="1937" x2="557.5" y2="1937" stroke="#111" stroke-width="1.5"/>
<line x1="552.5" y1="1980.7" x2="557.5" y2="1980.7" stroke="#111" stroke-width="1.5"/>
<rect x="686.6" y="1806.0" width="67.5" height="285.0" fill="#646464" stroke="#1e1e1e" stroke-width="1.3"/>
<line x1="720.4" y1="1801.2" x2="720.4" y2="1810.6" stroke="#111" stroke-width="1.5"/>
<line x1="717.9" y1="1801.2" x2="722.9" y2="1801.2" stroke="#111" stroke-width="1.5"/>
<line x1="717.9" y1="1810.6" x2="722.9" y2="1810.6" stroke="#111" stroke-width="1.5"/>
<polyline points="388.5,1863.7 388.5,1824 554.6,1824 554.6,1918.8" fill="none" stroke="#3a3a3a" stroke-width="2.3"/>
<polyline points="388.5,1824 388.5,1730.8 721.2,1730.8 721.2,1788.7" fill="none" stroke="#3a3a3a" stroke-width="2.3"/>
<text x="471.8" y="1829.7" text-anchor="middle" font-family="'Liberation Sans',Arial,sans-serif" font-size="44" fill="#111" stroke="#111" stroke-width="0.8">***</text>
<text x="553.9" y="1736.9" text-anchor="middle" font-family="'Liberation Sans',Arial,sans-serif" font-size="44" fill="#111" stroke="#111" stroke-width="0.8">***</text>
<text transform="translate(237.6,2075) rotate(-90)" font-family="'Liberation Sans',Arial,sans-serif" font-weight="bold" font-size="27.7" fill="#111" textLength="373" lengthAdjust="spacingAndGlyphs">Relative expression to Actin</text>
<text x="347.2" y="2135.8" font-family="'Liberation Sans',Arial,sans-serif" font-weight="bold" font-size="27.6" fill="#111" textLength="78.9" lengthAdjust="spacingAndGlyphs">THP-1</text>
<text x="515.5" y="2135.8" font-family="'Liberation Sans',Arial,sans-serif" font-weight="bold" font-size="27.6" fill="#111" textLength="78" lengthAdjust="spacingAndGlyphs">HL-60</text>
<text x="684.9" y="2135.8" font-family="'Liberation Sans',Arial,sans-serif" font-weight="bold" font-size="27.6" fill="#111" textLength="72.6" lengthAdjust="spacingAndGlyphs">MM-6</text>
<text x="1446.8" y="1772.5" text-anchor="middle" font-family="'Liberation Sans',Arial,sans-serif" font-weight="bold" font-size="48" fill="#111" textLength="132.8" lengthAdjust="spacingAndGlyphs">THP-1</text>
<text x="1648.2" y="1772.5" text-anchor="middle" font-family="'Liberation Sans',Arial,sans-serif" font-weight="bold" font-size="48" fill="#111" textLength="128.6" lengthAdjust="spacingAndGlyphs">HL-60</text>
<text x="1845.3" y="1772.5" text-anchor="middle" font-family="'Liberation Sans',Arial,sans-serif" font-weight="bold" font-size="48" fill="#111" textLength="117.9" lengthAdjust="spacingAndGlyphs">MM-6</text>
<text x="1058.9" y="1886" font-family="'Liberation Sans',Arial,sans-serif" font-weight="bold" font-size="49" fill="#111" textLength="203.6" lengthAdjust="spacingAndGlyphs">BCL2L13</text>
<text x="1096.4" y="2016.6" font-family="'Liberation Sans',Arial,sans-serif" font-weight="bold" font-size="48.6" fill="#111" textLength="159.7" lengthAdjust="spacingAndGlyphs">β-Actin</text>
<defs>
<filter id="bl2" x="-30%" y="-80%" width="160%" height="260%"><feGaussianBlur stdDeviation="3"/></filter>
<filter id="bl6" x="-30%" y="-80%" width="160%" height="260%"><feGaussianBlur stdDeviation="7"/></filter>
<filter id="noise" x="0" y="0" width="100%" height="100%">
 <feTurbulence type="fractalNoise" baseFrequency="0.5" numOctaves="2" seed="7" result="t"/>
 <feColorMatrix type="matrix" values="0 0 0 0 0  0 0 0 0 0  0 0 0 0 0  0 0 0 -2.6 1.45" in="t"/>
</filter>
<filter id="rough" x="-5%" y="-30%" width="110%" height="160%">
 <feTurbulence type="fractalNoise" baseFrequency="0.6" numOctaves="2" seed="11" result="t"/>
 <feGaussianBlur in="SourceGraphic" stdDeviation="3" result="b"/>
 <feDisplacementMap in="b" in2="t" scale="7" xChannelSelector="R" yChannelSelector="G"/>
</filter>
<linearGradient id="bg1" x1="0" y1="0" x2="0" y2="1"><stop offset="0" stop-color="#e2e2e2"/><stop offset="0.5" stop-color="#dcdcdc"/><stop offset="1" stop-color="#d2d2d2"/></linearGradient>
<linearGradient id="bg1h" x1="0" y1="0" x2="1" y2="0">
 <stop offset="0" stop-color="#000" stop-opacity="0.06"/><stop offset="0.3" stop-color="#fff" stop-opacity="0"/>
 <stop offset="0.335" stop-color="#fff" stop-opacity="0.2"/><stop offset="0.37" stop-color="#fff" stop-opacity="0"/>
 <stop offset="0.63" stop-color="#fff" stop-opacity="0"/><stop offset="0.655" stop-color="#fff" stop-opacity="0.2"/><stop offset="0.69" stop-color="#fff" stop-opacity="0"/>
 <stop offset="0.97" stop-color="#fff" stop-opacity="0.2"/><stop offset="1" stop-color="#000" stop-opacity="0.08"/>
</linearGradient>
<clipPath id="cb1"><rect x="1336.8" y="1817.5" width="613.5" height="102"/></clipPath>
<clipPath id="cb2"><rect x="1336.8" y="1952.9" width="613.5" height="100.5"/></clipPath>
</defs>
<rect x="1336.8" y="1817.5" width="613.5" height="102" fill="url(#bg1)"/>
<rect x="1336.8" y="1817.5" width="613.5" height="102" fill="url(#bg1h)"/>
<g clip-path="url(#cb1)">
<g filter="url(#bl6)" fill="#000" opacity="0.35"><path d="M1356,1876 C1356,1864 1368,1862 1378,1864 C1388,1866 1396,1871 1400,1874 C1396,1879 1388,1886 1376,1888 C1364,1889 1356,1884 1356,1876 Z"/><path d="M1398,1873 C1420,1872 1440,1873 1455,1874 L1455,1877 C1440,1877 1420,1878 1398,1878 Z"/><path d="M1450,1874 C1452,1868 1470,1867 1490,1868 C1505,1869 1515,1872 1515,1875 C1512,1879 1500,1880 1485,1880 C1468,1880 1451,1879 1450,1874 Z"/><path d="M1554,1880 C1553,1868 1566,1864 1585,1865 C1610,1866 1640,1871 1665,1868 C1690,1864 1705,1858 1718,1860 C1728,1863 1729,1880 1727,1890 C1724,1899 1712,1900 1700,1895 C1682,1888 1660,1885 1635,1887 C1605,1890 1578,1897 1565,1895 C1557,1893 1554,1887 1554,1880 Z"/><path d="M1755,1868 C1756,1858 1768,1855 1790,1855 C1825,1855 1855,1853 1880,1848 C1900,1844 1915,1841 1924,1845 C1932,1851 1932,1872 1930,1883 C1927,1892 1916,1893 1905,1888 C1890,1882 1870,1880 1840,1881 C1810,1882 1785,1885 1768,1883 C1759,1881 1755,1876 1755,1868 Z"/></g>
<g filter="url(#bl2)" fill="#000"><path d="M1356,1876 C1356,1864 1368,1862 1378,1864 C1388,1866 1396,1871 1400,1874 C1396,1879 1388,1886 1376,1888 C1364,1889 1356,1884 1356,1876 Z"/><path d="M1398,1873 C1420,1872 1440,1873 1455,1874 L1455,1877 C1440,1877 1420,1878 1398,1878 Z" opacity="0.3"/><path d="M1450,1874 C1452,1868 1470,1867 1490,1868 C1505,1869 1515,1872 1515,1875 C1512,1879 1500,1880 1485,1880 C1468,1880 1451,1879 1450,1874 Z" opacity="0.8"/><path d="M1554,1880 C1553,1868 1566,1864 1585,1865 C1610,1866 1640,1871 1665,1868 C1690,1864 1705,1858 1718,1860 C1728,1863 1729,1880 1727,1890 C1724,1899 1712,1900 1700,1895 C1682,1888 1660,1885 1635,1887 C1605,1890 1578,1897 1565,1895 C1557,1893 1554,1887 1554,1880 Z"/><path d="M1755,1868 C1756,1858 1768,1855 1790,1855 C1825,1855 1855,1853 1880,1848 C1900,1844 1915,1841 1924,1845 C1932,1851 1932,1872 1930,1883 C1927,1892 1916,1893 1905,1888 C1890,1882 1870,1880 1840,1881 C1810,1882 1785,1885 1768,1883 C1759,1881 1755,1876 1755,1868 Z"/></g>
</g>
<circle cx="1486.5" cy="1911" r="1.3" fill="#333"/>
<rect x="1336.8" y="1817.5" width="613.5" height="102" fill="none" stroke="#000" stroke-width="3.6"/>
<rect x="1336.8" y="1952.9" width="613.5" height="100.5" fill="#efefef"/>
<g clip-path="url(#cb2)">
<rect x="1336.8" y="1952.9" width="613.5" height="100.5" fill="#000" filter="url(#noise)" opacity="0.4"/>
<g filter="url(#bl6)" fill="#000" opacity="0.45"><path d="M1330,1984 C1380,1981 1460,1980 1505,1983 C1520,1987 1526,1998 1524,2010 C1521,2022 1510,2027 1490,2027 C1440,2028 1380,2027 1330,2024 Z"/><path d="M1528,1985 C1545,1978 1600,1978 1660,1978 C1700,1978 1730,1978 1745,1980 L1745,2024 C1720,2030 1690,2033 1650,2033 C1600,2033 1555,2032 1538,2026 C1526,2018 1522,1996 1528,1985 Z"/><path d="M1730,1975 C1770,1970 1840,1967 1900,1968 C1925,1970 1934,1984 1932,2000 C1929,2015 1920,2024 1900,2025 C1840,2026 1780,2026 1730,2024 Z"/></g>
<g filter="url(#rough)" fill="#000"><path d="M1330,1984 C1380,1981 1460,1980 1505,1983 C1520,1987 1526,1998 1524,2010 C1521,2022 1510,2027 1490,2027 C1440,2028 1380,2027 1330,2024 Z"/><path d="M1528,1985 C1545,1978 1600,1978 1660,1978 C1700,1978 1730,1978 1745,1980 L1745,2024 C1720,2030 1690,2033 1650,2033 C1600,2033 1555,2032 1538,2026 C1526,2018 1522,1996 1528,1985 Z"/><path d="M1730,1975 C1770,1970 1840,1967 1900,1968 C1925,1970 1934,1984 1932,2000 C1929,2015 1920,2024 1900,2025 C1840,2026 1780,2026 1730,2024 Z"/></g>
</g>
<rect x="1336.8" y="1952.9" width="613.5" height="100.5" fill="none" stroke="#000" stroke-width="3.6"/>
</svg></body></html>
